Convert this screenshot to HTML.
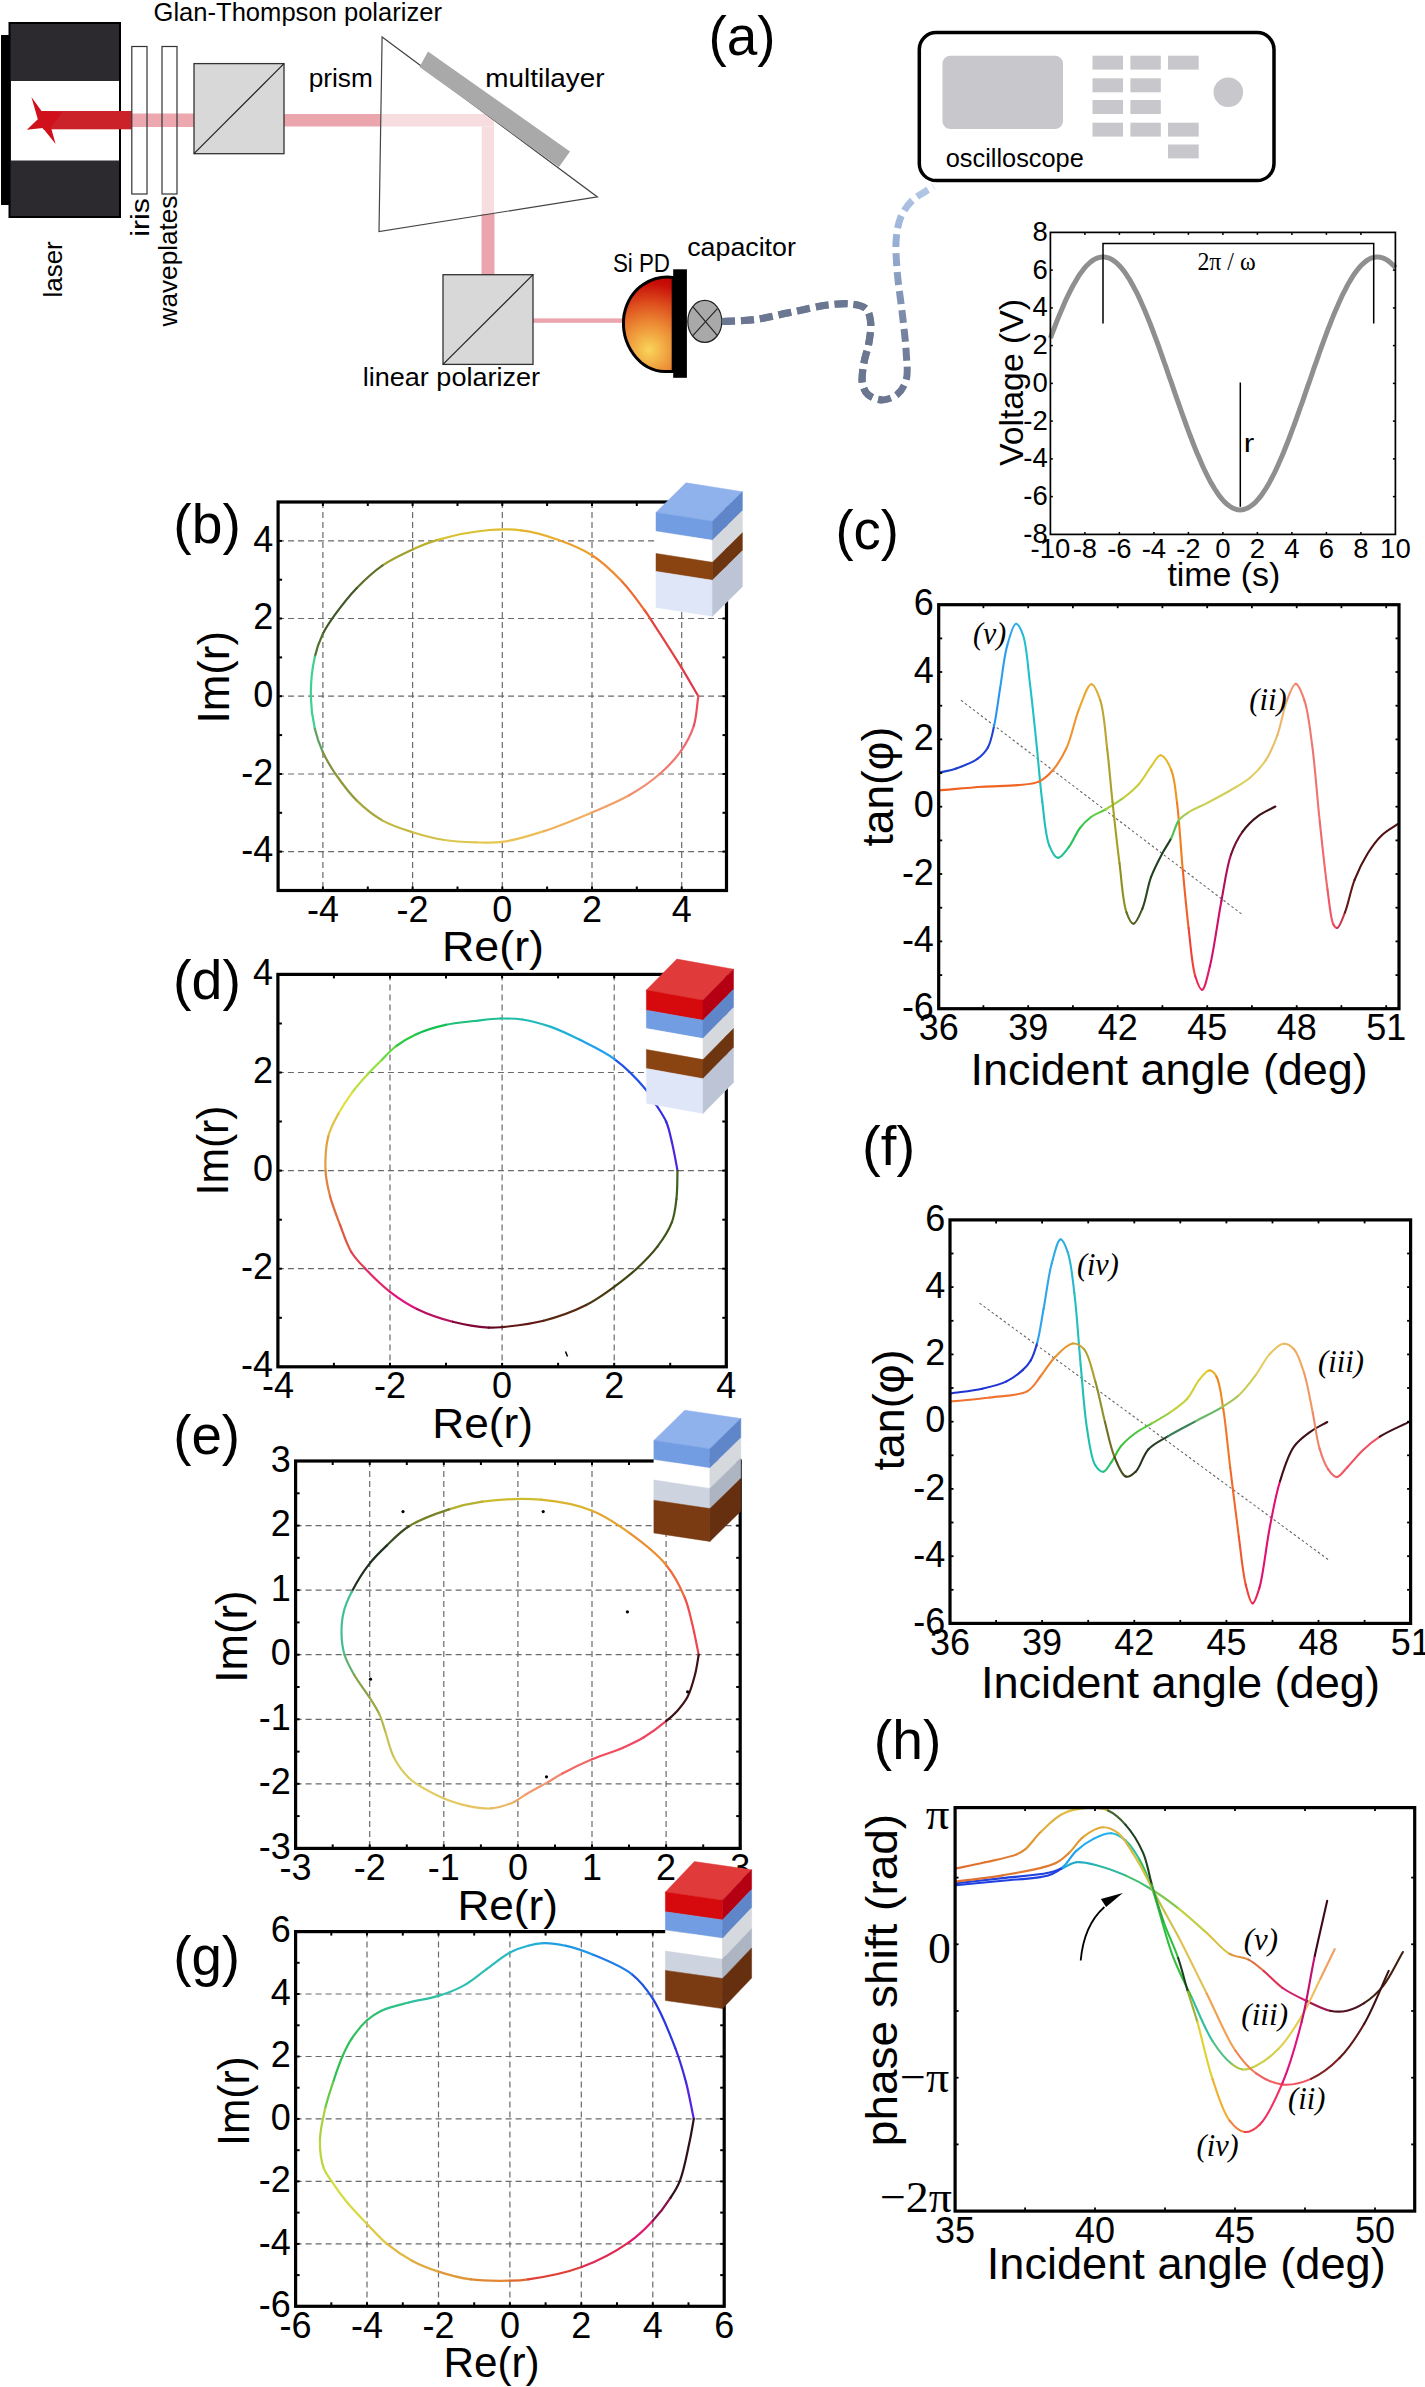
<!DOCTYPE html>
<html><head><meta charset="utf-8"><style>html,body{margin:0;padding:0;background:#fff;}svg{display:block;}</style></head>
<body><svg width="1425" height="2387" viewBox="0 0 1425 2387" font-family='"Liberation Sans", sans-serif'>
<rect x="1" y="35" width="10" height="170" fill="#000" />
<rect x="9.5" y="23" width="110.5" height="194" fill="#2d2a2f" stroke="#000" stroke-width="2" />
<rect x="11" y="81" width="108" height="79.5" fill="#fff" />
<rect x="42.8" y="111" width="89" height="18.3" fill="#cb2229" />
<rect x="131.8" y="113.5" width="62.2" height="13.5" fill="#eca7af" />
<rect x="284" y="114" width="96.5" height="12.5" fill="#eba5ad" />
<rect x="380.5" y="114" width="113.5" height="12.5" fill="#f8dde0" />
<rect x="481.7" y="126.5" width="12.3" height="87.5" fill="#f8dde0" />
<rect x="481.5" y="214" width="13" height="61" fill="#eba5ad" />
<rect x="533" y="318.4" width="90" height="4.4" fill="#eba5ad" />
<polygon points="31.4,96.9 41.5,111 62,112.4 51,127.4 55.6,143.9 42.8,127.9 26.9,129.7 37.8,119.2" fill="#d0101a" />
<rect x="131.8" y="46.5" width="15.2" height="147.5" fill="none" stroke="#333" stroke-width="1.2" />
<rect x="162" y="46.5" width="15" height="147.5" fill="none" stroke="#333" stroke-width="1.2" />
<rect x="194" y="63.6" width="90" height="90.1" fill="#d8d8d8" stroke="#333" stroke-width="1.3" />
<line x1="194" y1="153.7" x2="284" y2="63.6" stroke="#222" stroke-width="1.2" />
<polygon points="382.1,37 379,231.5 597.4,196.9" fill="none" stroke="#444" stroke-width="1.2" />
<polygon points="428,51.5 570,151.5 559,167 419.5,67" fill="#a9a9a9" />
<rect x="443" y="274.7" width="90" height="89.7" fill="#d8d8d8" stroke="#333" stroke-width="1.3" />
<line x1="443" y1="364.4" x2="533" y2="274.7" stroke="#222" stroke-width="1.2" />
<defs><radialGradient id="pdg" cx="649" cy="350" r="78" gradientUnits="userSpaceOnUse"><stop offset="0" stop-color="#fad55a"/><stop offset="0.35" stop-color="#ec8a34"/><stop offset="0.62" stop-color="#dc4a1c"/><stop offset="0.85" stop-color="#c81008"/><stop offset="1" stop-color="#c00000"/></radialGradient><linearGradient id="cab" x1="0" y1="400" x2="0" y2="186" gradientUnits="userSpaceOnUse"><stop offset="0" stop-color="#6b7690"/><stop offset="0.3" stop-color="#7482a0"/><stop offset="0.75" stop-color="#98b0d6"/><stop offset="1" stop-color="#b4c8e6"/></linearGradient></defs>
<path d="M673.2,277.5 C655,275 630,285 624,315 C620,345 640,371 665,371.5 L673.2,371.5 Z" fill="url(#pdg)" stroke="#000" stroke-width="3"/>
<rect x="673.2" y="269.3" width="13.7" height="108.5" fill="#000" />
<ellipse cx="704.8" cy="321.4" rx="17" ry="21" fill="#a9a9a9" stroke="#222" stroke-width="1.2"/>
<line x1="692.8" y1="306.6" x2="717.4" y2="335.6" stroke="#222" stroke-width="1.1" />
<line x1="717.4" y1="308.6" x2="692.8" y2="335.6" stroke="#222" stroke-width="1.1" />
<path d="M722,321.5C732.9,320.9 743.6,321 754.7,319.6C766.6,318.1 779,314.7 791.2,312.3C803.4,309.9 816.8,306.3 827.7,305C836.4,304 844.6,303.2 851.5,304.1C857,304.8 862.8,305.6 866,308.7C869,311.6 869.9,316.6 870.6,321.5C871.4,327.7 870,336.5 868.8,343.4C867.7,349.8 865.3,355.2 864.2,361.6C863,368.5 861.3,377.6 862.4,383.5C863.3,387.9 864.9,391.8 867.9,394.5C871.3,397.5 877.6,399.9 882.5,399.9C887.4,399.9 893.2,397.7 897.1,394.5C901.2,391.2 904.5,385.8 906.2,379.9C908.3,372.4 906.7,362.3 906.2,352.5C905.6,341.2 904,328.8 902.6,316C901,301.6 898.1,284.2 897.1,270.4C896.3,259.1 895.4,248.7 896.2,239.3C896.9,231.3 898,223.9 900.7,217.4C903.3,211.3 906.8,205.9 911.7,201C917.4,195.4 926.3,191.3 933.6,186.4" fill="none" stroke="url(#cab)" stroke-width="7" stroke-dasharray="13,6"/>
<path d="M722,321.5C732.9,320.9 743.6,321 754.7,319.6C766.6,318.1 779,314.7 791.2,312.3C803.4,309.9 816.8,306.3 827.7,305C836.4,304 844.6,303.2 851.5,304.1C857,304.8 862.8,305.6 866,308.7C869,311.6 869.9,316.6 870.6,321.5C871.4,327.7 870,336.5 868.8,343.4C867.7,349.8 865.3,355.2 864.2,361.6C863,368.5 861.3,377.6 862.4,383.5C863.3,387.9 864.9,391.8 867.9,394.5C871.3,397.5 877.6,399.9 882.5,399.9" fill="none" stroke="#6b7690" stroke-width="7.2" stroke-dasharray="13,6"/>
<rect x="919.3" y="32.6" width="354.7" height="148" fill="none" stroke="#000" stroke-width="3.5" rx="17" />
<rect x="942.4" y="55.7" width="120.6" height="73.3" fill="#c8c8cc" rx="8" />
<rect x="1092.5" y="55.7" width="30.5" height="13.9" fill="#c8c8cc" />
<rect x="1130.4" y="55.7" width="30.4" height="13.9" fill="#c8c8cc" />
<rect x="1168" y="55.7" width="30.7" height="13.9" fill="#c8c8cc" />
<rect x="1092.5" y="78.3" width="30.5" height="14" fill="#c8c8cc" />
<rect x="1130.4" y="78.3" width="30.4" height="14" fill="#c8c8cc" />
<rect x="1092.5" y="100" width="30.5" height="14" fill="#c8c8cc" />
<rect x="1130.4" y="100" width="30.4" height="14" fill="#c8c8cc" />
<rect x="1092.5" y="122.7" width="30.5" height="13.9" fill="#c8c8cc" />
<rect x="1130.4" y="122.7" width="30.4" height="13.9" fill="#c8c8cc" />
<rect x="1168" y="122.7" width="30.7" height="13.9" fill="#c8c8cc" />
<rect x="1168" y="144.5" width="30.7" height="13.9" fill="#c8c8cc" />
<circle cx="1228.3" cy="92.3" r="14.8" fill="#c8c8cc"/>
<path d="M1050.4,338.2 L1052.1,333.6 L1053.9,329 L1055.6,324.5 L1057.3,320.2 L1059,315.9 L1060.8,311.7 L1062.5,307.7 L1064.2,303.7 L1065.9,299.9 L1067.7,296.2 L1069.4,292.7 L1071.1,289.3 L1072.8,286 L1074.6,282.9 L1076.3,279.9 L1078,277.1 L1079.7,274.5 L1081.5,272.1 L1083.2,269.8 L1084.9,267.7 L1086.6,265.7 L1088.4,264 L1090.1,262.5 L1091.8,261.1 L1093.5,259.9 L1095.2,258.9 L1097,258.1 L1098.7,257.6 L1100.4,257.2 L1102.2,257 L1103.9,257 L1105.6,257.2 L1107.3,257.6 L1109.1,258.1 L1110.8,258.9 L1112.5,259.9 L1114.2,261.1 L1116,262.5 L1117.7,264 L1119.4,265.7 L1121.1,267.7 L1122.9,269.8 L1124.6,272.1 L1126.3,274.5 L1128,277.1 L1129.8,279.9 L1131.5,282.9 L1133.2,286 L1134.9,289.3 L1136.7,292.7 L1138.4,296.2 L1140.1,299.9 L1141.8,303.7 L1143.6,307.7 L1145.3,311.7 L1147,315.9 L1148.7,320.2 L1150.5,324.5 L1152.2,329 L1153.9,333.6 L1155.6,338.2 L1157.4,342.9 L1159.1,347.7 L1160.8,352.5 L1162.5,357.4 L1164.2,362.3 L1166,367.2 L1167.7,372.2 L1169.4,377.2 L1171.2,382.2 L1172.9,387.1 L1174.6,392.1 L1176.3,397.1 L1178.1,402.1 L1179.8,407 L1181.5,411.9 L1183.2,416.7 L1185,421.5 L1186.7,426.3 L1188.4,430.9 L1190.1,435.5 L1191.9,440 L1193.6,444.5 L1195.3,448.8 L1197,453 L1198.8,457.1 L1200.5,461.1 L1202.2,465 L1203.9,468.8 L1205.7,472.4 L1207.4,475.9 L1209.1,479.2 L1210.8,482.4 L1212.6,485.4 L1214.3,488.3 L1216,491 L1217.7,493.5 L1219.5,495.9 L1221.2,498.1 L1222.9,500.1 L1224.6,501.9 L1226.4,503.6 L1228.1,505.1 L1229.8,506.3 L1231.5,507.4 L1233.2,508.3 L1235,509 L1236.7,509.5 L1238.4,509.8 L1240.2,509.9 L1241.9,509.8 L1243.6,509.5 L1245.3,509 L1247.1,508.3 L1248.8,507.4 L1250.5,506.3 L1252.2,505.1 L1254,503.6 L1255.7,501.9 L1257.4,500.1 L1259.1,498.1 L1260.9,495.9 L1262.6,493.5 L1264.3,491 L1266,488.3 L1267.8,485.4 L1269.5,482.4 L1271.2,479.2 L1272.9,475.9 L1274.7,472.4 L1276.4,468.8 L1278.1,465 L1279.8,461.1 L1281.6,457.1 L1283.3,453 L1285,448.8 L1286.7,444.5 L1288.5,440 L1290.2,435.5 L1291.9,430.9 L1293.6,426.3 L1295.4,421.5 L1297.1,416.7 L1298.8,411.9 L1300.5,407 L1302.3,402.1 L1304,397.1 L1305.7,392.1 L1307.4,387.1 L1309.2,382.2 L1310.9,377.2 L1312.6,372.2 L1314.3,367.2 L1316.1,362.3 L1317.8,357.4 L1319.5,352.5 L1321.2,347.7 L1323,342.9 L1324.7,338.2 L1326.4,333.6 L1328.1,329 L1329.9,324.5 L1331.6,320.2 L1333.3,315.9 L1335,311.7 L1336.8,307.7 L1338.5,303.7 L1340.2,299.9 L1341.9,296.2 L1343.7,292.7 L1345.4,289.3 L1347.1,286 L1348.8,282.9 L1350.6,279.9 L1352.3,277.1 L1354,274.5 L1355.7,272.1 L1357.5,269.8 L1359.2,267.7 L1360.9,265.7 L1362.6,264 L1364.4,262.5 L1366.1,261.1 L1367.8,259.9 L1369.5,258.9 L1371.2,258.1 L1373,257.6 L1374.7,257.2 L1376.4,257 L1378.2,257 L1379.9,257.2 L1381.6,257.6 L1383.3,258.1 L1385.1,258.9 L1386.8,259.9 L1388.5,261.1 L1390.2,262.5 L1392,264 L1393.7,265.7 L1395.4,267.7" fill="none" stroke="#8f8f8f" stroke-width="5"/>
<line x1="1084.9" y1="534.4" x2="1084.9" y2="531.9" stroke="#000" stroke-width="1.5" />
<line x1="1084.9" y1="232.4" x2="1084.9" y2="234.9" stroke="#000" stroke-width="1.5" />
<line x1="1119.4" y1="534.4" x2="1119.4" y2="531.9" stroke="#000" stroke-width="1.5" />
<line x1="1119.4" y1="232.4" x2="1119.4" y2="234.9" stroke="#000" stroke-width="1.5" />
<line x1="1153.9" y1="534.4" x2="1153.9" y2="531.9" stroke="#000" stroke-width="1.5" />
<line x1="1153.9" y1="232.4" x2="1153.9" y2="234.9" stroke="#000" stroke-width="1.5" />
<line x1="1188.4" y1="534.4" x2="1188.4" y2="531.9" stroke="#000" stroke-width="1.5" />
<line x1="1188.4" y1="232.4" x2="1188.4" y2="234.9" stroke="#000" stroke-width="1.5" />
<line x1="1222.9" y1="534.4" x2="1222.9" y2="531.9" stroke="#000" stroke-width="1.5" />
<line x1="1222.9" y1="232.4" x2="1222.9" y2="234.9" stroke="#000" stroke-width="1.5" />
<line x1="1257.4" y1="534.4" x2="1257.4" y2="531.9" stroke="#000" stroke-width="1.5" />
<line x1="1257.4" y1="232.4" x2="1257.4" y2="234.9" stroke="#000" stroke-width="1.5" />
<line x1="1291.9" y1="534.4" x2="1291.9" y2="531.9" stroke="#000" stroke-width="1.5" />
<line x1="1291.9" y1="232.4" x2="1291.9" y2="234.9" stroke="#000" stroke-width="1.5" />
<line x1="1326.4" y1="534.4" x2="1326.4" y2="531.9" stroke="#000" stroke-width="1.5" />
<line x1="1326.4" y1="232.4" x2="1326.4" y2="234.9" stroke="#000" stroke-width="1.5" />
<line x1="1360.9" y1="534.4" x2="1360.9" y2="531.9" stroke="#000" stroke-width="1.5" />
<line x1="1360.9" y1="232.4" x2="1360.9" y2="234.9" stroke="#000" stroke-width="1.5" />
<line x1="1050.4" y1="496.6" x2="1052.9" y2="496.6" stroke="#000" stroke-width="1.5" />
<line x1="1395.4" y1="496.6" x2="1392.9" y2="496.6" stroke="#000" stroke-width="1.5" />
<line x1="1050.4" y1="458.9" x2="1052.9" y2="458.9" stroke="#000" stroke-width="1.5" />
<line x1="1395.4" y1="458.9" x2="1392.9" y2="458.9" stroke="#000" stroke-width="1.5" />
<line x1="1050.4" y1="421.1" x2="1052.9" y2="421.1" stroke="#000" stroke-width="1.5" />
<line x1="1395.4" y1="421.1" x2="1392.9" y2="421.1" stroke="#000" stroke-width="1.5" />
<line x1="1050.4" y1="383.4" x2="1052.9" y2="383.4" stroke="#000" stroke-width="1.5" />
<line x1="1395.4" y1="383.4" x2="1392.9" y2="383.4" stroke="#000" stroke-width="1.5" />
<line x1="1050.4" y1="345.6" x2="1052.9" y2="345.6" stroke="#000" stroke-width="1.5" />
<line x1="1395.4" y1="345.6" x2="1392.9" y2="345.6" stroke="#000" stroke-width="1.5" />
<line x1="1050.4" y1="307.9" x2="1052.9" y2="307.9" stroke="#000" stroke-width="1.5" />
<line x1="1395.4" y1="307.9" x2="1392.9" y2="307.9" stroke="#000" stroke-width="1.5" />
<line x1="1050.4" y1="270.1" x2="1052.9" y2="270.1" stroke="#000" stroke-width="1.5" />
<line x1="1395.4" y1="270.1" x2="1392.9" y2="270.1" stroke="#000" stroke-width="1.5" />
<rect x="1050.4" y="232.4" width="345" height="302" fill="none" stroke="#000" stroke-width="1.7" />
<path d="M1103,323.6 V243.6 H1373.7 V323.6" fill="none" stroke="#000" stroke-width="1.5"/>
<line x1="1240.3" y1="382.5" x2="1240.3" y2="506.8" stroke="#000" stroke-width="1.5" />
<text x="1047.7" y="542.8" font-size="27.5" text-anchor="end">-8</text>
<text x="1047.7" y="505" font-size="27.5" text-anchor="end">-6</text>
<text x="1047.7" y="467.3" font-size="27.5" text-anchor="end">-4</text>
<text x="1047.7" y="429.5" font-size="27.5" text-anchor="end">-2</text>
<text x="1047.7" y="391.8" font-size="27.5" text-anchor="end">0</text>
<text x="1047.7" y="354" font-size="27.5" text-anchor="end">2</text>
<text x="1047.7" y="316.3" font-size="27.5" text-anchor="end">4</text>
<text x="1047.7" y="278.5" font-size="27.5" text-anchor="end">6</text>
<text x="1047.7" y="240.8" font-size="27.5" text-anchor="end">8</text>
<text x="1050.4" y="557.5" font-size="27.5" text-anchor="middle">-10</text>
<text x="1084.9" y="557.5" font-size="27.5" text-anchor="middle">-8</text>
<text x="1119.4" y="557.5" font-size="27.5" text-anchor="middle">-6</text>
<text x="1153.9" y="557.5" font-size="27.5" text-anchor="middle">-4</text>
<text x="1188.4" y="557.5" font-size="27.5" text-anchor="middle">-2</text>
<text x="1222.9" y="557.5" font-size="27.5" text-anchor="middle">0</text>
<text x="1257.4" y="557.5" font-size="27.5" text-anchor="middle">2</text>
<text x="1291.9" y="557.5" font-size="27.5" text-anchor="middle">4</text>
<text x="1326.4" y="557.5" font-size="27.5" text-anchor="middle">6</text>
<text x="1360.9" y="557.5" font-size="27.5" text-anchor="middle">8</text>
<text x="1395.4" y="557.5" font-size="27.5" text-anchor="middle">10</text>
<line x1="322.9" y1="502" x2="322.9" y2="890.5" stroke="#6a6a6a" stroke-width="1.2" stroke-dasharray="6,4"/>
<line x1="412.6" y1="502" x2="412.6" y2="890.5" stroke="#6a6a6a" stroke-width="1.2" stroke-dasharray="6,4"/>
<line x1="502.3" y1="502" x2="502.3" y2="890.5" stroke="#6a6a6a" stroke-width="1.2" stroke-dasharray="6,4"/>
<line x1="592" y1="502" x2="592" y2="890.5" stroke="#6a6a6a" stroke-width="1.2" stroke-dasharray="6,4"/>
<line x1="681.7" y1="502" x2="681.7" y2="890.5" stroke="#6a6a6a" stroke-width="1.2" stroke-dasharray="6,4"/>
<line x1="278.1" y1="851.6" x2="726.5" y2="851.6" stroke="#6a6a6a" stroke-width="1.2" stroke-dasharray="6,4"/>
<line x1="278.1" y1="774" x2="726.5" y2="774" stroke="#6a6a6a" stroke-width="1.2" stroke-dasharray="6,4"/>
<line x1="278.1" y1="696.2" x2="726.5" y2="696.2" stroke="#6a6a6a" stroke-width="1.2" stroke-dasharray="6,4"/>
<line x1="278.1" y1="618.5" x2="726.5" y2="618.5" stroke="#6a6a6a" stroke-width="1.2" stroke-dasharray="6,4"/>
<line x1="278.1" y1="540.9" x2="726.5" y2="540.9" stroke="#6a6a6a" stroke-width="1.2" stroke-dasharray="6,4"/>
<path d="M698.3,696.2C692.6,686.5 687.8,677.9 681.2,667.1" fill="none" stroke="#e03848" stroke-width="2.2" stroke-linecap="round"/>
<path d="M681.2,667.1C672.6,653.1 657.1,629.1 650.7,619.3" fill="none" stroke="#e54040" stroke-width="2.2" stroke-linecap="round"/>
<path d="M650.7,619.3C647.9,615 647.3,613.9 644.4,610" fill="none" stroke="#ea5038" stroke-width="2.2" stroke-linecap="round"/>
<path d="M644.4,610C639.2,602.8 629.8,589.6 621.1,580.5" fill="none" stroke="#ee6a30" stroke-width="2.2" stroke-linecap="round"/>
<path d="M621.1,580.5C612.3,571.3 602.6,562 592,555.2" fill="none" stroke="#f08a30" stroke-width="2.2" stroke-linecap="round"/>
<path d="M592,555.2C581.5,548.5 569.7,543.8 557.9,539.7" fill="none" stroke="#eca030" stroke-width="2.2" stroke-linecap="round"/>
<path d="M557.9,539.7C546.1,535.5 533,531.9 521.1,530.4" fill="none" stroke="#e6b030" stroke-width="2.2" stroke-linecap="round"/>
<path d="M521.1,530.4C510.2,528.9 501.2,528.9 489.3,530" fill="none" stroke="#e0bc30" stroke-width="2.2" stroke-linecap="round"/>
<path d="M489.3,530C473.9,531.3 450.8,536.1 436.8,540.1" fill="none" stroke="#d8c030" stroke-width="2.2" stroke-linecap="round"/>
<path d="M436.8,540.1C427.1,542.9 421,545.6 412.6,549.4" fill="none" stroke="#b8b030" stroke-width="2.2" stroke-linecap="round"/>
<path d="M412.6,549.4C403,553.8 391.9,558.9 382.6,565.3" fill="none" stroke="#a0a030" stroke-width="2.2" stroke-linecap="round"/>
<path d="M382.6,565.3C373.2,571.8 364.5,580 356.6,588.2" fill="none" stroke="#607028" stroke-width="2.2" stroke-linecap="round"/>
<path d="M356.6,588.2C348.7,596.4 341,606.4 335,614.7C330.2,621.4 326.3,626.9 322.9,633.7" fill="none" stroke="#405828" stroke-width="2.2" stroke-linecap="round"/>
<path d="M322.9,633.7C319.5,640.8 316.8,647.8 314.9,656.6" fill="none" stroke="#507030" stroke-width="2.2" stroke-linecap="round"/>
<path d="M314.9,656.6C312.3,667.9 310.7,683.7 310.8,696.2C311,707.7 312.6,719 314.9,728.9" fill="none" stroke="#40d090" stroke-width="2.2" stroke-linecap="round"/>
<path d="M314.9,728.9C316.9,737.4 319.5,744.7 322.9,752.2" fill="none" stroke="#60a060" stroke-width="2.2" stroke-linecap="round"/>
<path d="M322.9,752.2C326.4,759.7 330.4,766.5 335.5,774" fill="none" stroke="#809040" stroke-width="2.2" stroke-linecap="round"/>
<path d="M335.5,774C341.4,782.5 348.7,792.6 356.6,800.4" fill="none" stroke="#909838" stroke-width="2.2" stroke-linecap="round"/>
<path d="M356.6,800.4C364.4,808.1 373.2,815.2 382.6,820.6" fill="none" stroke="#a8a840" stroke-width="2.2" stroke-linecap="round"/>
<path d="M382.6,820.6C391.9,825.8 402.4,829 412.6,832.2" fill="none" stroke="#c0b840" stroke-width="2.2" stroke-linecap="round"/>
<path d="M412.6,832.2C423,835.5 433.9,838.3 444.5,840" fill="none" stroke="#d0c048" stroke-width="2.2" stroke-linecap="round"/>
<path d="M444.5,840C454.8,841.6 465.4,842 475.4,842.3" fill="none" stroke="#dcc850" stroke-width="2.2" stroke-linecap="round"/>
<path d="M475.4,842.3C484.7,842.6 492.4,843.3 502.3,841.9" fill="none" stroke="#e4c850" stroke-width="2.2" stroke-linecap="round"/>
<path d="M502.3,841.9C514.8,840.2 529.8,835.7 544,831.1" fill="none" stroke="#ecc058" stroke-width="2.2" stroke-linecap="round"/>
<path d="M544,831.1C559.6,826 577.1,818.7 592,812.4" fill="none" stroke="#f0b060" stroke-width="2.2" stroke-linecap="round"/>
<path d="M592,812.4C605.3,806.8 617.7,801.9 629.2,795.3" fill="none" stroke="#f0a068" stroke-width="2.2" stroke-linecap="round"/>
<path d="M629.2,795.3C640.2,789 650.8,781.7 659.7,774" fill="none" stroke="#f08c70" stroke-width="2.2" stroke-linecap="round"/>
<path d="M659.7,774C667.9,766.8 675.4,759 681.2,750.6" fill="none" stroke="#f07870" stroke-width="2.2" stroke-linecap="round"/>
<path d="M681.2,750.6C686.6,742.8 690.9,734.7 693.8,725.8" fill="none" stroke="#f06870" stroke-width="2.2" stroke-linecap="round"/>
<path d="M693.8,725.8C696.7,716.6 696.8,706.1 698.3,696.2" fill="none" stroke="#ea5060" stroke-width="2.2" stroke-linecap="round"/>
<line x1="278.1" y1="890.5" x2="278.1" y2="886.5" stroke="#000" stroke-width="2" />
<line x1="278.1" y1="502" x2="278.1" y2="506" stroke="#000" stroke-width="2" />
<line x1="322.9" y1="890.5" x2="322.9" y2="886.5" stroke="#000" stroke-width="2" />
<line x1="322.9" y1="502" x2="322.9" y2="506" stroke="#000" stroke-width="2" />
<line x1="367.8" y1="890.5" x2="367.8" y2="886.5" stroke="#000" stroke-width="2" />
<line x1="367.8" y1="502" x2="367.8" y2="506" stroke="#000" stroke-width="2" />
<line x1="412.6" y1="890.5" x2="412.6" y2="886.5" stroke="#000" stroke-width="2" />
<line x1="412.6" y1="502" x2="412.6" y2="506" stroke="#000" stroke-width="2" />
<line x1="457.5" y1="890.5" x2="457.5" y2="886.5" stroke="#000" stroke-width="2" />
<line x1="457.5" y1="502" x2="457.5" y2="506" stroke="#000" stroke-width="2" />
<line x1="502.3" y1="890.5" x2="502.3" y2="886.5" stroke="#000" stroke-width="2" />
<line x1="502.3" y1="502" x2="502.3" y2="506" stroke="#000" stroke-width="2" />
<line x1="547.1" y1="890.5" x2="547.1" y2="886.5" stroke="#000" stroke-width="2" />
<line x1="547.1" y1="502" x2="547.1" y2="506" stroke="#000" stroke-width="2" />
<line x1="592" y1="890.5" x2="592" y2="886.5" stroke="#000" stroke-width="2" />
<line x1="592" y1="502" x2="592" y2="506" stroke="#000" stroke-width="2" />
<line x1="636.8" y1="890.5" x2="636.8" y2="886.5" stroke="#000" stroke-width="2" />
<line x1="636.8" y1="502" x2="636.8" y2="506" stroke="#000" stroke-width="2" />
<line x1="681.7" y1="890.5" x2="681.7" y2="886.5" stroke="#000" stroke-width="2" />
<line x1="681.7" y1="502" x2="681.7" y2="506" stroke="#000" stroke-width="2" />
<line x1="726.5" y1="890.5" x2="726.5" y2="886.5" stroke="#000" stroke-width="2" />
<line x1="726.5" y1="502" x2="726.5" y2="506" stroke="#000" stroke-width="2" />
<line x1="278.1" y1="890.5" x2="282.1" y2="890.5" stroke="#000" stroke-width="2" />
<line x1="726.5" y1="890.5" x2="722.5" y2="890.5" stroke="#000" stroke-width="2" />
<line x1="278.1" y1="851.6" x2="282.1" y2="851.6" stroke="#000" stroke-width="2" />
<line x1="726.5" y1="851.6" x2="722.5" y2="851.6" stroke="#000" stroke-width="2" />
<line x1="278.1" y1="812.8" x2="282.1" y2="812.8" stroke="#000" stroke-width="2" />
<line x1="726.5" y1="812.8" x2="722.5" y2="812.8" stroke="#000" stroke-width="2" />
<line x1="278.1" y1="774" x2="282.1" y2="774" stroke="#000" stroke-width="2" />
<line x1="726.5" y1="774" x2="722.5" y2="774" stroke="#000" stroke-width="2" />
<line x1="278.1" y1="735.1" x2="282.1" y2="735.1" stroke="#000" stroke-width="2" />
<line x1="726.5" y1="735.1" x2="722.5" y2="735.1" stroke="#000" stroke-width="2" />
<line x1="278.1" y1="696.2" x2="282.1" y2="696.2" stroke="#000" stroke-width="2" />
<line x1="726.5" y1="696.2" x2="722.5" y2="696.2" stroke="#000" stroke-width="2" />
<line x1="278.1" y1="657.4" x2="282.1" y2="657.4" stroke="#000" stroke-width="2" />
<line x1="726.5" y1="657.4" x2="722.5" y2="657.4" stroke="#000" stroke-width="2" />
<line x1="278.1" y1="618.5" x2="282.1" y2="618.5" stroke="#000" stroke-width="2" />
<line x1="726.5" y1="618.5" x2="722.5" y2="618.5" stroke="#000" stroke-width="2" />
<line x1="278.1" y1="579.7" x2="282.1" y2="579.7" stroke="#000" stroke-width="2" />
<line x1="726.5" y1="579.7" x2="722.5" y2="579.7" stroke="#000" stroke-width="2" />
<line x1="278.1" y1="540.9" x2="282.1" y2="540.9" stroke="#000" stroke-width="2" />
<line x1="726.5" y1="540.9" x2="722.5" y2="540.9" stroke="#000" stroke-width="2" />
<line x1="278.1" y1="502" x2="282.1" y2="502" stroke="#000" stroke-width="2" />
<line x1="726.5" y1="502" x2="722.5" y2="502" stroke="#000" stroke-width="2" />
<rect x="278.1" y="502" width="448.4" height="388.5" fill="none" stroke="#000" stroke-width="3.2" />
<text x="273.3" y="862.2" font-size="36" text-anchor="end">-4</text>
<text x="273.3" y="784.6" font-size="36" text-anchor="end">-2</text>
<text x="273.3" y="706.9" font-size="36" text-anchor="end">0</text>
<text x="273.3" y="629.1" font-size="36" text-anchor="end">2</text>
<text x="273.3" y="551.5" font-size="36" text-anchor="end">4</text>
<text x="322.9" y="921.8" font-size="36" text-anchor="middle">-4</text>
<text x="412.6" y="921.8" font-size="36" text-anchor="middle">-2</text>
<text x="502.3" y="921.8" font-size="36" text-anchor="middle">0</text>
<text x="592" y="921.8" font-size="36" text-anchor="middle">2</text>
<text x="681.7" y="921.8" font-size="36" text-anchor="middle">4</text>
<polygon points="656,512.4 712.4,521.3 742.4,491.7 686,482.8" fill="#8fb1ec" stroke="#8fb1ec" stroke-width="0.5" />
<polygon points="656,512.4 712.4,521.3 712.4,540.3 656,531.4" fill="#739de2" stroke="#739de2" stroke-width="0.5" />
<polygon points="712.4,521.3 742.4,491.7 742.4,510.7 712.4,540.3" fill="#5f86c8" stroke="#5f86c8" stroke-width="0.5" />
<polygon points="656,531.4 712.4,540.3 712.4,562.3 656,553.4" fill="#ffffff" stroke="#ffffff" stroke-width="0.5" />
<polygon points="712.4,540.3 742.4,510.7 742.4,532.7 712.4,562.3" fill="#d5d8dd" stroke="#d5d8dd" stroke-width="0.5" />
<polygon points="656,553.4 712.4,562.3 712.4,580.3 656,571.4" fill="#8a4412" stroke="#8a4412" stroke-width="0.5" />
<polygon points="712.4,562.3 742.4,532.7 742.4,550.7 712.4,580.3" fill="#6e3610" stroke="#6e3610" stroke-width="0.5" />
<polygon points="656,571.4 712.4,580.3 712.4,616.3 656,607.4" fill="#dfe6f7" stroke="#dfe6f7" stroke-width="0.5" />
<polygon points="712.4,580.3 742.4,550.7 742.4,586.7 712.4,616.3" fill="#bcc4d6" stroke="#bcc4d6" stroke-width="0.5" />
<line x1="390" y1="974.4" x2="390" y2="1366.8" stroke="#6a6a6a" stroke-width="1.2" stroke-dasharray="6,4"/>
<line x1="502.1" y1="974.4" x2="502.1" y2="1366.8" stroke="#6a6a6a" stroke-width="1.2" stroke-dasharray="6,4"/>
<line x1="614.2" y1="974.4" x2="614.2" y2="1366.8" stroke="#6a6a6a" stroke-width="1.2" stroke-dasharray="6,4"/>
<line x1="277.9" y1="1268.7" x2="726.3" y2="1268.7" stroke="#6a6a6a" stroke-width="1.2" stroke-dasharray="6,4"/>
<line x1="277.9" y1="1170.6" x2="726.3" y2="1170.6" stroke="#6a6a6a" stroke-width="1.2" stroke-dasharray="6,4"/>
<line x1="277.9" y1="1072.5" x2="726.3" y2="1072.5" stroke="#6a6a6a" stroke-width="1.2" stroke-dasharray="6,4"/>
<path d="M677.5,1170.6C675.7,1161.1 674,1150.8 671.9,1142.2" fill="none" stroke="#5223e0" stroke-width="2.2" stroke-linecap="round"/>
<path d="M671.9,1142.2C670.2,1134.8 669,1128.3 666.3,1122" fill="none" stroke="#4228e0" stroke-width="2.2" stroke-linecap="round"/>
<path d="M666.3,1122C663.7,1115.9 659.7,1110.4 656.2,1104.9" fill="none" stroke="#322de0" stroke-width="2.2" stroke-linecap="round"/>
<path d="M656.2,1104.9C652.8,1099.5 650.4,1095 645.6,1089.2" fill="none" stroke="#273be3" stroke-width="2.2" stroke-linecap="round"/>
<path d="M645.6,1089.2C638.3,1080.5 626,1067.6 614.8,1059.3" fill="none" stroke="#2050e8" stroke-width="2.2" stroke-linecap="round"/>
<path d="M614.8,1059.3C603.9,1051.2 590.7,1045.3 579.4,1039.6" fill="none" stroke="#20a0f0" stroke-width="2.2" stroke-linecap="round"/>
<path d="M579.4,1039.6C569.5,1034.7 560.5,1030.3 550.9,1026.9" fill="none" stroke="#20b0d5" stroke-width="2.2" stroke-linecap="round"/>
<path d="M550.9,1026.9C541.5,1023.6 531.2,1020.9 522.3,1019.5" fill="none" stroke="#20b9bd" stroke-width="2.2" stroke-linecap="round"/>
<path d="M522.3,1019.5C514.6,1018.4 508,1018.4 500.4,1018.5" fill="none" stroke="#20bca8" stroke-width="2.2" stroke-linecap="round"/>
<path d="M500.4,1018.5C492,1018.7 483,1020 474.1,1021" fill="none" stroke="#20bf93" stroke-width="2.2" stroke-linecap="round"/>
<path d="M474.1,1021C464.7,1022.1 455,1022.8 445.5,1024.9" fill="none" stroke="#1cc076" stroke-width="2.2" stroke-linecap="round"/>
<path d="M445.5,1024.9C435.7,1027.1 425,1030.3 416.3,1034.2" fill="none" stroke="#14c052" stroke-width="2.2" stroke-linecap="round"/>
<path d="M416.3,1034.2C408.6,1037.7 401.7,1041.9 395.6,1046.5" fill="none" stroke="#2cc840" stroke-width="2.2" stroke-linecap="round"/>
<path d="M395.6,1046.5C390,1050.8 385.8,1056 381,1060.7" fill="none" stroke="#64d840" stroke-width="2.2" stroke-linecap="round"/>
<path d="M381,1060.7C376.3,1065.4 371.6,1069.9 367,1075" fill="none" stroke="#93e040" stroke-width="2.2" stroke-linecap="round"/>
<path d="M367,1075C362.1,1080.3 357.1,1085.9 352.4,1092.1" fill="none" stroke="#bae040" stroke-width="2.2" stroke-linecap="round"/>
<path d="M352.4,1092.1C347.5,1098.8 342.5,1106.3 338.4,1113.7" fill="none" stroke="#e0e040" stroke-width="2.2" stroke-linecap="round"/>
<path d="M338.4,1113.7C334.5,1121 330.5,1127.7 328.3,1136.3" fill="none" stroke="#e0c040" stroke-width="2.2" stroke-linecap="round"/>
<path d="M328.3,1136.3C325.8,1146.3 325.1,1160 325.5,1170.6" fill="none" stroke="#e0a040" stroke-width="2.2" stroke-linecap="round"/>
<path d="M325.5,1170.6C326,1179.8 327.8,1187.4 330,1196.1" fill="none" stroke="#e08440" stroke-width="2.2" stroke-linecap="round"/>
<path d="M330,1196.1C332.5,1205.5 336.5,1215.6 340.1,1225" fill="none" stroke="#e06c40" stroke-width="2.2" stroke-linecap="round"/>
<path d="M340.1,1225C343.6,1234.2 346.7,1244.4 351.3,1252" fill="none" stroke="#e05545" stroke-width="2.2" stroke-linecap="round"/>
<path d="M351.3,1252C355.3,1258.6 359.8,1262.9 365.3,1268.7" fill="none" stroke="#e04050" stroke-width="2.2" stroke-linecap="round"/>
<path d="M365.3,1268.7C372.2,1276 381.3,1285 390,1291.8" fill="none" stroke="#e02868" stroke-width="2.2" stroke-linecap="round"/>
<path d="M390,1291.8C398.5,1298.3 407,1304.1 416.9,1308.9" fill="none" stroke="#e01080" stroke-width="2.2" stroke-linecap="round"/>
<path d="M416.9,1308.9C427.7,1314.2 440.7,1318.6 452.8,1321.7" fill="none" stroke="#b51060" stroke-width="2.2" stroke-linecap="round"/>
<path d="M452.8,1321.7C464.6,1324.7 479.5,1327 488.6,1327.6" fill="none" stroke="#800838" stroke-width="2.2" stroke-linecap="round"/>
<path d="M488.6,1327.6C494.2,1327.9 496.4,1327.6 502.1,1327.1" fill="none" stroke="#60081c" stroke-width="2.2" stroke-linecap="round"/>
<path d="M502.1,1327.1C512.2,1326.1 529.8,1324.2 543.6,1320.7" fill="none" stroke="#601814" stroke-width="2.2" stroke-linecap="round"/>
<path d="M543.6,1320.7C557.9,1317 573.7,1311.3 586.2,1305" fill="none" stroke="#582810" stroke-width="2.2" stroke-linecap="round"/>
<path d="M586.2,1305C597,1299.6 606.1,1292.7 614.8,1286.4" fill="none" stroke="#483810" stroke-width="2.2" stroke-linecap="round"/>
<path d="M614.8,1286.4C622.5,1280.7 629.2,1275.6 636.1,1269.2" fill="none" stroke="#404412" stroke-width="2.2" stroke-linecap="round"/>
<path d="M636.1,1269.2C643.4,1262.4 651.3,1254.7 657.4,1246.6" fill="none" stroke="#404c16" stroke-width="2.2" stroke-linecap="round"/>
<path d="M657.4,1246.6C663.2,1238.9 668.8,1230.4 671.9,1222.1" fill="none" stroke="#40541a" stroke-width="2.2" stroke-linecap="round"/>
<path d="M671.9,1222.1C674.8,1214.5 675.5,1207.2 676.4,1199" fill="none" stroke="#405c1e" stroke-width="2.2" stroke-linecap="round"/>
<path d="M676.4,1199C677.5,1190.1 677.2,1180.1 677.5,1170.6" fill="none" stroke="#406020" stroke-width="2.2" stroke-linecap="round"/>
<line x1="565.5" y1="1351.5" x2="567.5" y2="1356.5" stroke="#000" stroke-width="1.5" />
<line x1="277.9" y1="1366.8" x2="277.9" y2="1362.8" stroke="#000" stroke-width="2" />
<line x1="277.9" y1="974.4" x2="277.9" y2="978.4" stroke="#000" stroke-width="2" />
<line x1="333.9" y1="1366.8" x2="333.9" y2="1362.8" stroke="#000" stroke-width="2" />
<line x1="333.9" y1="974.4" x2="333.9" y2="978.4" stroke="#000" stroke-width="2" />
<line x1="390" y1="1366.8" x2="390" y2="1362.8" stroke="#000" stroke-width="2" />
<line x1="390" y1="974.4" x2="390" y2="978.4" stroke="#000" stroke-width="2" />
<line x1="446" y1="1366.8" x2="446" y2="1362.8" stroke="#000" stroke-width="2" />
<line x1="446" y1="974.4" x2="446" y2="978.4" stroke="#000" stroke-width="2" />
<line x1="502.1" y1="1366.8" x2="502.1" y2="1362.8" stroke="#000" stroke-width="2" />
<line x1="502.1" y1="974.4" x2="502.1" y2="978.4" stroke="#000" stroke-width="2" />
<line x1="558.1" y1="1366.8" x2="558.1" y2="1362.8" stroke="#000" stroke-width="2" />
<line x1="558.1" y1="974.4" x2="558.1" y2="978.4" stroke="#000" stroke-width="2" />
<line x1="614.2" y1="1366.8" x2="614.2" y2="1362.8" stroke="#000" stroke-width="2" />
<line x1="614.2" y1="974.4" x2="614.2" y2="978.4" stroke="#000" stroke-width="2" />
<line x1="670.2" y1="1366.8" x2="670.2" y2="1362.8" stroke="#000" stroke-width="2" />
<line x1="670.2" y1="974.4" x2="670.2" y2="978.4" stroke="#000" stroke-width="2" />
<line x1="726.3" y1="1366.8" x2="726.3" y2="1362.8" stroke="#000" stroke-width="2" />
<line x1="726.3" y1="974.4" x2="726.3" y2="978.4" stroke="#000" stroke-width="2" />
<line x1="277.9" y1="1366.8" x2="281.9" y2="1366.8" stroke="#000" stroke-width="2" />
<line x1="726.3" y1="1366.8" x2="722.3" y2="1366.8" stroke="#000" stroke-width="2" />
<line x1="277.9" y1="1317.8" x2="281.9" y2="1317.8" stroke="#000" stroke-width="2" />
<line x1="726.3" y1="1317.8" x2="722.3" y2="1317.8" stroke="#000" stroke-width="2" />
<line x1="277.9" y1="1268.7" x2="281.9" y2="1268.7" stroke="#000" stroke-width="2" />
<line x1="726.3" y1="1268.7" x2="722.3" y2="1268.7" stroke="#000" stroke-width="2" />
<line x1="277.9" y1="1219.7" x2="281.9" y2="1219.7" stroke="#000" stroke-width="2" />
<line x1="726.3" y1="1219.7" x2="722.3" y2="1219.7" stroke="#000" stroke-width="2" />
<line x1="277.9" y1="1170.6" x2="281.9" y2="1170.6" stroke="#000" stroke-width="2" />
<line x1="726.3" y1="1170.6" x2="722.3" y2="1170.6" stroke="#000" stroke-width="2" />
<line x1="277.9" y1="1121.5" x2="281.9" y2="1121.5" stroke="#000" stroke-width="2" />
<line x1="726.3" y1="1121.5" x2="722.3" y2="1121.5" stroke="#000" stroke-width="2" />
<line x1="277.9" y1="1072.5" x2="281.9" y2="1072.5" stroke="#000" stroke-width="2" />
<line x1="726.3" y1="1072.5" x2="722.3" y2="1072.5" stroke="#000" stroke-width="2" />
<line x1="277.9" y1="1023.5" x2="281.9" y2="1023.5" stroke="#000" stroke-width="2" />
<line x1="726.3" y1="1023.5" x2="722.3" y2="1023.5" stroke="#000" stroke-width="2" />
<line x1="277.9" y1="974.4" x2="281.9" y2="974.4" stroke="#000" stroke-width="2" />
<line x1="726.3" y1="974.4" x2="722.3" y2="974.4" stroke="#000" stroke-width="2" />
<rect x="277.9" y="974.4" width="448.4" height="392.4" fill="none" stroke="#000" stroke-width="3.2" />
<text x="273.1" y="1377.4" font-size="36" text-anchor="end">-4</text>
<text x="273.1" y="1279.3" font-size="36" text-anchor="end">-2</text>
<text x="273.1" y="1181.2" font-size="36" text-anchor="end">0</text>
<text x="273.1" y="1083.1" font-size="36" text-anchor="end">2</text>
<text x="273.1" y="985" font-size="36" text-anchor="end">4</text>
<text x="277.9" y="1398.1" font-size="36" text-anchor="middle">-4</text>
<text x="390" y="1398.1" font-size="36" text-anchor="middle">-2</text>
<text x="502.1" y="1398.1" font-size="36" text-anchor="middle">0</text>
<text x="614.2" y="1398.1" font-size="36" text-anchor="middle">2</text>
<text x="726.3" y="1398.1" font-size="36" text-anchor="middle">4</text>
<polygon points="646.4,990.1 703,1000.2 733.5,969.2 676.9,959.1" fill="#e03a3a" stroke="#e03a3a" stroke-width="0.5" />
<polygon points="646.4,990.1 703,1000.2 703,1020.3 646.4,1010.2" fill="#d60a0c" stroke="#d60a0c" stroke-width="0.5" />
<polygon points="703,1000.2 733.5,969.2 733.5,989.3 703,1020.3" fill="#b40012" stroke="#b40012" stroke-width="0.5" />
<polygon points="646.4,1010.2 703,1020.3 703,1038.6 646.4,1028.5" fill="#739de2" stroke="#739de2" stroke-width="0.5" />
<polygon points="703,1020.3 733.5,989.3 733.5,1007.6 703,1038.6" fill="#5f86c8" stroke="#5f86c8" stroke-width="0.5" />
<polygon points="646.4,1028.5 703,1038.6 703,1059.6 646.4,1049.5" fill="#ffffff" stroke="#ffffff" stroke-width="0.5" />
<polygon points="703,1038.6 733.5,1007.6 733.5,1028.6 703,1059.6" fill="#d5d8dd" stroke="#d5d8dd" stroke-width="0.5" />
<polygon points="646.4,1049.5 703,1059.6 703,1078.7 646.4,1068.6" fill="#8a4412" stroke="#8a4412" stroke-width="0.5" />
<polygon points="703,1059.6 733.5,1028.6 733.5,1047.7 703,1078.7" fill="#6e3610" stroke="#6e3610" stroke-width="0.5" />
<polygon points="646.4,1068.6 703,1078.7 703,1113.4 646.4,1103.3" fill="#dfe6f7" stroke="#dfe6f7" stroke-width="0.5" />
<polygon points="703,1078.7 733.5,1047.7 733.5,1082.4 703,1113.4" fill="#bcc4d6" stroke="#bcc4d6" stroke-width="0.5" />
<line x1="369.7" y1="1461" x2="369.7" y2="1848.4" stroke="#6a6a6a" stroke-width="1.2" stroke-dasharray="6,4"/>
<line x1="443.8" y1="1461" x2="443.8" y2="1848.4" stroke="#6a6a6a" stroke-width="1.2" stroke-dasharray="6,4"/>
<line x1="517.9" y1="1461" x2="517.9" y2="1848.4" stroke="#6a6a6a" stroke-width="1.2" stroke-dasharray="6,4"/>
<line x1="592" y1="1461" x2="592" y2="1848.4" stroke="#6a6a6a" stroke-width="1.2" stroke-dasharray="6,4"/>
<line x1="666.1" y1="1461" x2="666.1" y2="1848.4" stroke="#6a6a6a" stroke-width="1.2" stroke-dasharray="6,4"/>
<line x1="295.6" y1="1783.8" x2="740.2" y2="1783.8" stroke="#6a6a6a" stroke-width="1.2" stroke-dasharray="6,4"/>
<line x1="295.6" y1="1719.3" x2="740.2" y2="1719.3" stroke="#6a6a6a" stroke-width="1.2" stroke-dasharray="6,4"/>
<line x1="295.6" y1="1654.7" x2="740.2" y2="1654.7" stroke="#6a6a6a" stroke-width="1.2" stroke-dasharray="6,4"/>
<line x1="295.6" y1="1590.1" x2="740.2" y2="1590.1" stroke="#6a6a6a" stroke-width="1.2" stroke-dasharray="6,4"/>
<line x1="295.6" y1="1525.6" x2="740.2" y2="1525.6" stroke="#6a6a6a" stroke-width="1.2" stroke-dasharray="6,4"/>
<path d="M698.7,1654.7C696.5,1644.2 694.5,1633 692,1623.1" fill="none" stroke="#f0444e" stroke-width="2.2" stroke-linecap="round"/>
<path d="M692,1623.1C689.8,1614 688.4,1606.1 684.6,1597.2" fill="none" stroke="#f04c4a" stroke-width="2.2" stroke-linecap="round"/>
<path d="M684.6,1597.2C680.2,1586.8 674.4,1575.1 666.1,1565" fill="none" stroke="#f0683c" stroke-width="2.2" stroke-linecap="round"/>
<path d="M666.1,1565C656.6,1553.3 641.8,1541.9 629,1532.7" fill="none" stroke="#ec8c30" stroke-width="2.2" stroke-linecap="round"/>
<path d="M629,1532.7C617.1,1524 605.8,1516.1 592,1510.7" fill="none" stroke="#e4a430" stroke-width="2.2" stroke-linecap="round"/>
<path d="M592,1510.7C576.8,1504.7 558.6,1501.3 540.9,1499.7" fill="none" stroke="#dab430" stroke-width="2.2" stroke-linecap="round"/>
<path d="M540.9,1499.7C522.1,1498.1 499,1499.5 482.3,1501.7" fill="none" stroke="#cebc30" stroke-width="2.2" stroke-linecap="round"/>
<path d="M482.3,1501.7C469.6,1503.4 460.4,1505.7 449,1509.4" fill="none" stroke="#b4b030" stroke-width="2.2" stroke-linecap="round"/>
<path d="M449,1509.4C436.1,1513.6 419.9,1519.4 409,1526.2" fill="none" stroke="#788028" stroke-width="2.2" stroke-linecap="round"/>
<path d="M409,1526.2C399.9,1531.8 393.6,1539 386.7,1545.6" fill="none" stroke="#384820" stroke-width="2.2" stroke-linecap="round"/>
<path d="M386.7,1545.6C380.3,1551.7 374.5,1557.2 369,1564.3C362.8,1572.2 356.3,1582.9 351.9,1591.4" fill="none" stroke="#203020" stroke-width="2.2" stroke-linecap="round"/>
<path d="M351.9,1591.4C348.3,1598.4 345.5,1604.5 343.8,1611.4C342,1618.5 341.4,1626.1 341.5,1633.4C341.7,1640.6 342.4,1647.9 344.5,1654.7" fill="none" stroke="#40c090" stroke-width="2.2" stroke-linecap="round"/>
<path d="M344.5,1654.7C346.6,1661.6 350.3,1668 354.1,1674.7" fill="none" stroke="#60b070" stroke-width="2.2" stroke-linecap="round"/>
<path d="M354.1,1674.7C358.3,1682 364.5,1689.7 369,1696.7" fill="none" stroke="#88a048" stroke-width="2.2" stroke-linecap="round"/>
<path d="M369,1696.7C372.8,1702.8 376.6,1708.1 379.3,1714.1" fill="none" stroke="#9ca844" stroke-width="2.2" stroke-linecap="round"/>
<path d="M379.3,1714.1C382,1719.8 383.1,1725.1 385.3,1731.5" fill="none" stroke="#b4b84c" stroke-width="2.2" stroke-linecap="round"/>
<path d="M385.3,1731.5C387.9,1739.4 390,1750.1 394.2,1758" fill="none" stroke="#c8c454" stroke-width="2.2" stroke-linecap="round"/>
<path d="M394.2,1758C398.1,1765.5 403.6,1772.8 409,1778" fill="none" stroke="#d8cc5c" stroke-width="2.2" stroke-linecap="round"/>
<path d="M409,1778C413.6,1782.5 418.3,1785.1 423.8,1788.4" fill="none" stroke="#e1ce60" stroke-width="2.2" stroke-linecap="round"/>
<path d="M423.8,1788.4C430,1792 437.3,1795.8 444.5,1798.7" fill="none" stroke="#e3ca60" stroke-width="2.2" stroke-linecap="round"/>
<path d="M444.5,1798.7C451.9,1801.6 459.7,1804.2 467.5,1805.8" fill="none" stroke="#e5c660" stroke-width="2.2" stroke-linecap="round"/>
<path d="M467.5,1805.8C475.3,1807.4 483.4,1809 491.2,1808.4" fill="none" stroke="#e7c260" stroke-width="2.2" stroke-linecap="round"/>
<path d="M491.2,1808.4C499,1807.7 508,1804.7 514.2,1801.9" fill="none" stroke="#eab864" stroke-width="2.2" stroke-linecap="round"/>
<path d="M514.2,1801.9C519,1799.7 521.4,1796.9 526.1,1794.2" fill="none" stroke="#eea86c" stroke-width="2.2" stroke-linecap="round"/>
<path d="M526.1,1794.2C532.2,1790.4 541.7,1785.6 548.3,1781.9" fill="none" stroke="#f09870" stroke-width="2.2" stroke-linecap="round"/>
<path d="M548.3,1781.9C553.5,1778.9 556.7,1776.5 562.4,1773.5" fill="none" stroke="#f08870" stroke-width="2.2" stroke-linecap="round"/>
<path d="M562.4,1773.5C570.3,1769.2 581.9,1763.6 592,1759.3" fill="none" stroke="#f06868" stroke-width="2.2" stroke-linecap="round"/>
<path d="M592,1759.3C602.2,1755 613.9,1751.7 623.1,1747.7" fill="none" stroke="#f04d60" stroke-width="2.2" stroke-linecap="round"/>
<path d="M623.1,1747.7C630.8,1744.3 637,1741.5 643.9,1737.3" fill="none" stroke="#f04860" stroke-width="2.2" stroke-linecap="round"/>
<path d="M643.9,1737.3C651.3,1732.8 660.1,1726.2 666.1,1721.2" fill="none" stroke="#f04360" stroke-width="2.2" stroke-linecap="round"/>
<path d="M666.1,1721.2C670.6,1717.5 673.7,1714.8 677.2,1710.9C680.9,1706.7 684.7,1702.2 687.6,1696.7C690.9,1690.4 693.1,1681.9 695,1674.7C696.8,1668 697.5,1661.4 698.7,1654.7" fill="none" stroke="#401018" stroke-width="2.2" stroke-linecap="round"/>
<line x1="295.6" y1="1848.4" x2="295.6" y2="1844.4" stroke="#000" stroke-width="2" />
<line x1="295.6" y1="1461" x2="295.6" y2="1465" stroke="#000" stroke-width="2" />
<line x1="332.7" y1="1848.4" x2="332.7" y2="1844.4" stroke="#000" stroke-width="2" />
<line x1="332.7" y1="1461" x2="332.7" y2="1465" stroke="#000" stroke-width="2" />
<line x1="369.7" y1="1848.4" x2="369.7" y2="1844.4" stroke="#000" stroke-width="2" />
<line x1="369.7" y1="1461" x2="369.7" y2="1465" stroke="#000" stroke-width="2" />
<line x1="406.8" y1="1848.4" x2="406.8" y2="1844.4" stroke="#000" stroke-width="2" />
<line x1="406.8" y1="1461" x2="406.8" y2="1465" stroke="#000" stroke-width="2" />
<line x1="443.8" y1="1848.4" x2="443.8" y2="1844.4" stroke="#000" stroke-width="2" />
<line x1="443.8" y1="1461" x2="443.8" y2="1465" stroke="#000" stroke-width="2" />
<line x1="480.9" y1="1848.4" x2="480.9" y2="1844.4" stroke="#000" stroke-width="2" />
<line x1="480.9" y1="1461" x2="480.9" y2="1465" stroke="#000" stroke-width="2" />
<line x1="517.9" y1="1848.4" x2="517.9" y2="1844.4" stroke="#000" stroke-width="2" />
<line x1="517.9" y1="1461" x2="517.9" y2="1465" stroke="#000" stroke-width="2" />
<line x1="555" y1="1848.4" x2="555" y2="1844.4" stroke="#000" stroke-width="2" />
<line x1="555" y1="1461" x2="555" y2="1465" stroke="#000" stroke-width="2" />
<line x1="592" y1="1848.4" x2="592" y2="1844.4" stroke="#000" stroke-width="2" />
<line x1="592" y1="1461" x2="592" y2="1465" stroke="#000" stroke-width="2" />
<line x1="629" y1="1848.4" x2="629" y2="1844.4" stroke="#000" stroke-width="2" />
<line x1="629" y1="1461" x2="629" y2="1465" stroke="#000" stroke-width="2" />
<line x1="666.1" y1="1848.4" x2="666.1" y2="1844.4" stroke="#000" stroke-width="2" />
<line x1="666.1" y1="1461" x2="666.1" y2="1465" stroke="#000" stroke-width="2" />
<line x1="703.2" y1="1848.4" x2="703.2" y2="1844.4" stroke="#000" stroke-width="2" />
<line x1="703.2" y1="1461" x2="703.2" y2="1465" stroke="#000" stroke-width="2" />
<line x1="740.2" y1="1848.4" x2="740.2" y2="1844.4" stroke="#000" stroke-width="2" />
<line x1="740.2" y1="1461" x2="740.2" y2="1465" stroke="#000" stroke-width="2" />
<line x1="295.6" y1="1848.4" x2="299.6" y2="1848.4" stroke="#000" stroke-width="2" />
<line x1="740.2" y1="1848.4" x2="736.2" y2="1848.4" stroke="#000" stroke-width="2" />
<line x1="295.6" y1="1816.1" x2="299.6" y2="1816.1" stroke="#000" stroke-width="2" />
<line x1="740.2" y1="1816.1" x2="736.2" y2="1816.1" stroke="#000" stroke-width="2" />
<line x1="295.6" y1="1783.8" x2="299.6" y2="1783.8" stroke="#000" stroke-width="2" />
<line x1="740.2" y1="1783.8" x2="736.2" y2="1783.8" stroke="#000" stroke-width="2" />
<line x1="295.6" y1="1751.6" x2="299.6" y2="1751.6" stroke="#000" stroke-width="2" />
<line x1="740.2" y1="1751.6" x2="736.2" y2="1751.6" stroke="#000" stroke-width="2" />
<line x1="295.6" y1="1719.3" x2="299.6" y2="1719.3" stroke="#000" stroke-width="2" />
<line x1="740.2" y1="1719.3" x2="736.2" y2="1719.3" stroke="#000" stroke-width="2" />
<line x1="295.6" y1="1687" x2="299.6" y2="1687" stroke="#000" stroke-width="2" />
<line x1="740.2" y1="1687" x2="736.2" y2="1687" stroke="#000" stroke-width="2" />
<line x1="295.6" y1="1654.7" x2="299.6" y2="1654.7" stroke="#000" stroke-width="2" />
<line x1="740.2" y1="1654.7" x2="736.2" y2="1654.7" stroke="#000" stroke-width="2" />
<line x1="295.6" y1="1622.4" x2="299.6" y2="1622.4" stroke="#000" stroke-width="2" />
<line x1="740.2" y1="1622.4" x2="736.2" y2="1622.4" stroke="#000" stroke-width="2" />
<line x1="295.6" y1="1590.1" x2="299.6" y2="1590.1" stroke="#000" stroke-width="2" />
<line x1="740.2" y1="1590.1" x2="736.2" y2="1590.1" stroke="#000" stroke-width="2" />
<line x1="295.6" y1="1557.8" x2="299.6" y2="1557.8" stroke="#000" stroke-width="2" />
<line x1="740.2" y1="1557.8" x2="736.2" y2="1557.8" stroke="#000" stroke-width="2" />
<line x1="295.6" y1="1525.6" x2="299.6" y2="1525.6" stroke="#000" stroke-width="2" />
<line x1="740.2" y1="1525.6" x2="736.2" y2="1525.6" stroke="#000" stroke-width="2" />
<line x1="295.6" y1="1493.3" x2="299.6" y2="1493.3" stroke="#000" stroke-width="2" />
<line x1="740.2" y1="1493.3" x2="736.2" y2="1493.3" stroke="#000" stroke-width="2" />
<line x1="295.6" y1="1461" x2="299.6" y2="1461" stroke="#000" stroke-width="2" />
<line x1="740.2" y1="1461" x2="736.2" y2="1461" stroke="#000" stroke-width="2" />
<rect x="295.6" y="1461" width="444.6" height="387.4" fill="none" stroke="#000" stroke-width="3.2" />
<text x="290.8" y="1859" font-size="36" text-anchor="end">-3</text>
<text x="290.8" y="1794.4" font-size="36" text-anchor="end">-2</text>
<text x="290.8" y="1729.9" font-size="36" text-anchor="end">-1</text>
<text x="290.8" y="1665.3" font-size="36" text-anchor="end">0</text>
<text x="290.8" y="1600.7" font-size="36" text-anchor="end">1</text>
<text x="290.8" y="1536.2" font-size="36" text-anchor="end">2</text>
<text x="290.8" y="1471.6" font-size="36" text-anchor="end">3</text>
<text x="295.6" y="1879.7" font-size="36" text-anchor="middle">-3</text>
<text x="369.7" y="1879.7" font-size="36" text-anchor="middle">-2</text>
<text x="443.8" y="1879.7" font-size="36" text-anchor="middle">-1</text>
<text x="517.9" y="1879.7" font-size="36" text-anchor="middle">0</text>
<text x="592" y="1879.7" font-size="36" text-anchor="middle">1</text>
<text x="666.1" y="1879.7" font-size="36" text-anchor="middle">2</text>
<text x="740.2" y="1879.7" font-size="36" text-anchor="middle">3</text>
<circle cx="403" cy="1511.6" r="1.6" fill="#000"/>
<circle cx="543.2" cy="1511.6" r="1.6" fill="#000"/>
<circle cx="627.4" cy="1611.8" r="1.6" fill="#000"/>
<circle cx="370.5" cy="1679.2" r="1.6" fill="#000"/>
<circle cx="546.5" cy="1776.8" r="1.6" fill="#000"/>
<circle cx="687.6" cy="1691.8" r="1.6" fill="#000"/>
<polygon points="653.9,1440.4 709.9,1448.8 740.8,1418.6 684.8,1410.2" fill="#8fb1ec" stroke="#8fb1ec" stroke-width="0.5" />
<polygon points="653.9,1440.4 709.9,1448.8 709.9,1468.2 653.9,1459.8" fill="#739de2" stroke="#739de2" stroke-width="0.5" />
<polygon points="709.9,1448.8 740.8,1418.6 740.8,1438 709.9,1468.2" fill="#5f86c8" stroke="#5f86c8" stroke-width="0.5" />
<polygon points="653.9,1459.8 709.9,1468.2 709.9,1488.4 653.9,1480" fill="#ffffff" stroke="#ffffff" stroke-width="0.5" />
<polygon points="709.9,1468.2 740.8,1438 740.8,1458.2 709.9,1488.4" fill="#d5d8dd" stroke="#d5d8dd" stroke-width="0.5" />
<polygon points="653.9,1480 709.9,1488.4 709.9,1508.6 653.9,1500.2" fill="#cdd4df" stroke="#cdd4df" stroke-width="0.5" />
<polygon points="709.9,1488.4 740.8,1458.2 740.8,1478.4 709.9,1508.6" fill="#adb5c3" stroke="#adb5c3" stroke-width="0.5" />
<polygon points="653.9,1500.2 709.9,1508.6 709.9,1541.4 653.9,1533" fill="#7b3b12" stroke="#7b3b12" stroke-width="0.5" />
<polygon points="709.9,1508.6 740.8,1478.4 740.8,1511.2 709.9,1541.4" fill="#663010" stroke="#663010" stroke-width="0.5" />
<line x1="367" y1="1931.6" x2="367" y2="2306.3" stroke="#6a6a6a" stroke-width="1.2" stroke-dasharray="6,4"/>
<line x1="438.5" y1="1931.6" x2="438.5" y2="2306.3" stroke="#6a6a6a" stroke-width="1.2" stroke-dasharray="6,4"/>
<line x1="509.9" y1="1931.6" x2="509.9" y2="2306.3" stroke="#6a6a6a" stroke-width="1.2" stroke-dasharray="6,4"/>
<line x1="581.3" y1="1931.6" x2="581.3" y2="2306.3" stroke="#6a6a6a" stroke-width="1.2" stroke-dasharray="6,4"/>
<line x1="652.8" y1="1931.6" x2="652.8" y2="2306.3" stroke="#6a6a6a" stroke-width="1.2" stroke-dasharray="6,4"/>
<line x1="295.6" y1="2243.9" x2="724.2" y2="2243.9" stroke="#6a6a6a" stroke-width="1.2" stroke-dasharray="6,4"/>
<line x1="295.6" y1="2181.4" x2="724.2" y2="2181.4" stroke="#6a6a6a" stroke-width="1.2" stroke-dasharray="6,4"/>
<line x1="295.6" y1="2118.9" x2="724.2" y2="2118.9" stroke="#6a6a6a" stroke-width="1.2" stroke-dasharray="6,4"/>
<line x1="295.6" y1="2056.5" x2="724.2" y2="2056.5" stroke="#6a6a6a" stroke-width="1.2" stroke-dasharray="6,4"/>
<line x1="295.6" y1="1994" x2="724.2" y2="1994" stroke="#6a6a6a" stroke-width="1.2" stroke-dasharray="6,4"/>
<path d="M693.8,2118.9C691.2,2106.7 689.1,2094.1 686,2082.1" fill="none" stroke="#5424e0" stroke-width="2.2" stroke-linecap="round"/>
<path d="M686,2082.1C682.9,2070.5 680,2060.3 675.3,2048.1" fill="none" stroke="#3c2ce0" stroke-width="2.2" stroke-linecap="round"/>
<path d="M675.3,2048.1C669.5,2033 661.2,2011.9 652.8,1998.7" fill="none" stroke="#2838e0" stroke-width="2.2" stroke-linecap="round"/>
<path d="M652.8,1998.7C646.3,1988.5 640.6,1981.1 631.7,1974.1" fill="none" stroke="#2054e2" stroke-width="2.2" stroke-linecap="round"/>
<path d="M631.7,1974.1C621.4,1966 605.1,1959.6 593.1,1954.7" fill="none" stroke="#207ce6" stroke-width="2.2" stroke-linecap="round"/>
<path d="M593.1,1954.7C583.2,1950.7 574.1,1947.6 565.3,1945.7" fill="none" stroke="#2095e5" stroke-width="2.2" stroke-linecap="round"/>
<path d="M565.3,1945.7C557.6,1944 550.1,1943 543.5,1943.2" fill="none" stroke="#20a0e0" stroke-width="2.2" stroke-linecap="round"/>
<path d="M543.5,1943.2C537.9,1943.3 533.4,1944.2 528.1,1945.7" fill="none" stroke="#20abdb" stroke-width="2.2" stroke-linecap="round"/>
<path d="M528.1,1945.7C522.2,1947.2 516.1,1949.2 509.9,1952.5" fill="none" stroke="#24b4ce" stroke-width="2.2" stroke-linecap="round"/>
<path d="M509.9,1952.5C502.3,1956.6 494.2,1963.8 486.3,1969.4" fill="none" stroke="#2cbcba" stroke-width="2.2" stroke-linecap="round"/>
<path d="M486.3,1969.4C478.6,1974.9 471.2,1981.5 463.1,1985.9C455.3,1990.2 447.2,1993.2 438.5,1995.9" fill="none" stroke="#30c0b0" stroke-width="2.2" stroke-linecap="round"/>
<path d="M438.5,1995.9C429.2,1998.8 418.5,1999.9 408.8,2002.5" fill="none" stroke="#30c0a3" stroke-width="2.2" stroke-linecap="round"/>
<path d="M408.8,2002.5C399.3,2005 388.4,2007.4 381,2010.9" fill="none" stroke="#30c088" stroke-width="2.2" stroke-linecap="round"/>
<path d="M381,2010.9C375.3,2013.6 371.5,2016.2 367,2020.3" fill="none" stroke="#30c06d" stroke-width="2.2" stroke-linecap="round"/>
<path d="M367,2020.3C361.7,2025.1 355.9,2032.4 351.7,2038.7" fill="none" stroke="#30c05d" stroke-width="2.2" stroke-linecap="round"/>
<path d="M351.7,2038.7C347.8,2044.5 345.3,2049.9 342.4,2056.5" fill="none" stroke="#30c058" stroke-width="2.2" stroke-linecap="round"/>
<path d="M342.4,2056.5C339,2064.2 336,2073.5 333.1,2082.1" fill="none" stroke="#30c053" stroke-width="2.2" stroke-linecap="round"/>
<path d="M333.1,2082.1C330.2,2090.8 327.4,2099.1 325.2,2108.3" fill="none" stroke="#68c848" stroke-width="2.2" stroke-linecap="round"/>
<path d="M325.2,2108.3C322.9,2118.5 320,2130.4 319.9,2140.8" fill="none" stroke="#a8d240" stroke-width="2.2" stroke-linecap="round"/>
<path d="M319.9,2140.8C319.8,2150.3 321.2,2161 323.8,2168.3" fill="none" stroke="#b8d640" stroke-width="2.2" stroke-linecap="round"/>
<path d="M323.8,2168.3C325.7,2173.7 328.5,2176.6 331.7,2181.4" fill="none" stroke="#c6da40" stroke-width="2.2" stroke-linecap="round"/>
<path d="M331.7,2181.4C335.8,2187.7 341.4,2195.5 347,2202.3" fill="none" stroke="#d2de40" stroke-width="2.2" stroke-linecap="round"/>
<path d="M347,2202.3C353.1,2209.6 360.3,2216.9 367,2223.9" fill="none" stroke="#dad840" stroke-width="2.2" stroke-linecap="round"/>
<path d="M367,2223.9C373.6,2230.7 379.7,2237.8 387,2243.9" fill="none" stroke="#dec840" stroke-width="2.2" stroke-linecap="round"/>
<path d="M387,2243.9C394.6,2250.1 403.3,2256 412,2260.7" fill="none" stroke="#e0b840" stroke-width="2.2" stroke-linecap="round"/>
<path d="M412,2260.7C420.5,2265.3 429.1,2268.6 438.5,2271.6" fill="none" stroke="#e0a840" stroke-width="2.2" stroke-linecap="round"/>
<path d="M438.5,2271.6C448.6,2274.9 459.6,2277.9 471,2279.4" fill="none" stroke="#e0983c" stroke-width="2.2" stroke-linecap="round"/>
<path d="M471,2279.4C483.3,2281.1 499.4,2280.9 509.9,2280.7" fill="none" stroke="#e08834" stroke-width="2.2" stroke-linecap="round"/>
<path d="M509.9,2280.7C517.1,2280.6 520.5,2280.6 528.1,2279.4" fill="none" stroke="#e06830" stroke-width="2.2" stroke-linecap="round"/>
<path d="M528.1,2279.4C541.3,2277.5 564.8,2273.2 581.7,2267" fill="none" stroke="#e04038" stroke-width="2.2" stroke-linecap="round"/>
<path d="M581.7,2267C598.3,2260.8 616.2,2251.1 628.8,2242.3" fill="none" stroke="#e02850" stroke-width="2.2" stroke-linecap="round"/>
<path d="M628.8,2242.3C638.7,2235.5 645.7,2228.4 652.8,2220.7" fill="none" stroke="#e01870" stroke-width="2.2" stroke-linecap="round"/>
<path d="M652.8,2220.7C659.5,2213.5 665.9,2204.9 670.6,2197.6" fill="none" stroke="#88104c" stroke-width="2.2" stroke-linecap="round"/>
<path d="M670.6,2197.6C674.5,2191.7 677.2,2187.7 679.9,2180.8C683.8,2171 686.8,2154.8 689.2,2143.6C691.2,2134.6 692.3,2127.2 693.8,2118.9" fill="none" stroke="#301018" stroke-width="2.2" stroke-linecap="round"/>
<line x1="295.6" y1="2306.3" x2="295.6" y2="2302.3" stroke="#000" stroke-width="2" />
<line x1="295.6" y1="1931.6" x2="295.6" y2="1935.6" stroke="#000" stroke-width="2" />
<line x1="331.3" y1="2306.3" x2="331.3" y2="2302.3" stroke="#000" stroke-width="2" />
<line x1="331.3" y1="1931.6" x2="331.3" y2="1935.6" stroke="#000" stroke-width="2" />
<line x1="367" y1="2306.3" x2="367" y2="2302.3" stroke="#000" stroke-width="2" />
<line x1="367" y1="1931.6" x2="367" y2="1935.6" stroke="#000" stroke-width="2" />
<line x1="402.8" y1="2306.3" x2="402.8" y2="2302.3" stroke="#000" stroke-width="2" />
<line x1="402.8" y1="1931.6" x2="402.8" y2="1935.6" stroke="#000" stroke-width="2" />
<line x1="438.5" y1="2306.3" x2="438.5" y2="2302.3" stroke="#000" stroke-width="2" />
<line x1="438.5" y1="1931.6" x2="438.5" y2="1935.6" stroke="#000" stroke-width="2" />
<line x1="474.2" y1="2306.3" x2="474.2" y2="2302.3" stroke="#000" stroke-width="2" />
<line x1="474.2" y1="1931.6" x2="474.2" y2="1935.6" stroke="#000" stroke-width="2" />
<line x1="509.9" y1="2306.3" x2="509.9" y2="2302.3" stroke="#000" stroke-width="2" />
<line x1="509.9" y1="1931.6" x2="509.9" y2="1935.6" stroke="#000" stroke-width="2" />
<line x1="545.6" y1="2306.3" x2="545.6" y2="2302.3" stroke="#000" stroke-width="2" />
<line x1="545.6" y1="1931.6" x2="545.6" y2="1935.6" stroke="#000" stroke-width="2" />
<line x1="581.3" y1="2306.3" x2="581.3" y2="2302.3" stroke="#000" stroke-width="2" />
<line x1="581.3" y1="1931.6" x2="581.3" y2="1935.6" stroke="#000" stroke-width="2" />
<line x1="617" y1="2306.3" x2="617" y2="2302.3" stroke="#000" stroke-width="2" />
<line x1="617" y1="1931.6" x2="617" y2="1935.6" stroke="#000" stroke-width="2" />
<line x1="652.8" y1="2306.3" x2="652.8" y2="2302.3" stroke="#000" stroke-width="2" />
<line x1="652.8" y1="1931.6" x2="652.8" y2="1935.6" stroke="#000" stroke-width="2" />
<line x1="688.5" y1="2306.3" x2="688.5" y2="2302.3" stroke="#000" stroke-width="2" />
<line x1="688.5" y1="1931.6" x2="688.5" y2="1935.6" stroke="#000" stroke-width="2" />
<line x1="724.2" y1="2306.3" x2="724.2" y2="2302.3" stroke="#000" stroke-width="2" />
<line x1="724.2" y1="1931.6" x2="724.2" y2="1935.6" stroke="#000" stroke-width="2" />
<line x1="295.6" y1="2306.3" x2="299.6" y2="2306.3" stroke="#000" stroke-width="2" />
<line x1="724.2" y1="2306.3" x2="720.2" y2="2306.3" stroke="#000" stroke-width="2" />
<line x1="295.6" y1="2275.1" x2="299.6" y2="2275.1" stroke="#000" stroke-width="2" />
<line x1="724.2" y1="2275.1" x2="720.2" y2="2275.1" stroke="#000" stroke-width="2" />
<line x1="295.6" y1="2243.9" x2="299.6" y2="2243.9" stroke="#000" stroke-width="2" />
<line x1="724.2" y1="2243.9" x2="720.2" y2="2243.9" stroke="#000" stroke-width="2" />
<line x1="295.6" y1="2212.6" x2="299.6" y2="2212.6" stroke="#000" stroke-width="2" />
<line x1="724.2" y1="2212.6" x2="720.2" y2="2212.6" stroke="#000" stroke-width="2" />
<line x1="295.6" y1="2181.4" x2="299.6" y2="2181.4" stroke="#000" stroke-width="2" />
<line x1="724.2" y1="2181.4" x2="720.2" y2="2181.4" stroke="#000" stroke-width="2" />
<line x1="295.6" y1="2150.2" x2="299.6" y2="2150.2" stroke="#000" stroke-width="2" />
<line x1="724.2" y1="2150.2" x2="720.2" y2="2150.2" stroke="#000" stroke-width="2" />
<line x1="295.6" y1="2118.9" x2="299.6" y2="2118.9" stroke="#000" stroke-width="2" />
<line x1="724.2" y1="2118.9" x2="720.2" y2="2118.9" stroke="#000" stroke-width="2" />
<line x1="295.6" y1="2087.7" x2="299.6" y2="2087.7" stroke="#000" stroke-width="2" />
<line x1="724.2" y1="2087.7" x2="720.2" y2="2087.7" stroke="#000" stroke-width="2" />
<line x1="295.6" y1="2056.5" x2="299.6" y2="2056.5" stroke="#000" stroke-width="2" />
<line x1="724.2" y1="2056.5" x2="720.2" y2="2056.5" stroke="#000" stroke-width="2" />
<line x1="295.6" y1="2025.3" x2="299.6" y2="2025.3" stroke="#000" stroke-width="2" />
<line x1="724.2" y1="2025.3" x2="720.2" y2="2025.3" stroke="#000" stroke-width="2" />
<line x1="295.6" y1="1994" x2="299.6" y2="1994" stroke="#000" stroke-width="2" />
<line x1="724.2" y1="1994" x2="720.2" y2="1994" stroke="#000" stroke-width="2" />
<line x1="295.6" y1="1962.8" x2="299.6" y2="1962.8" stroke="#000" stroke-width="2" />
<line x1="724.2" y1="1962.8" x2="720.2" y2="1962.8" stroke="#000" stroke-width="2" />
<line x1="295.6" y1="1931.6" x2="299.6" y2="1931.6" stroke="#000" stroke-width="2" />
<line x1="724.2" y1="1931.6" x2="720.2" y2="1931.6" stroke="#000" stroke-width="2" />
<rect x="295.6" y="1931.6" width="428.6" height="374.7" fill="none" stroke="#000" stroke-width="3.2" />
<text x="290.8" y="2316.9" font-size="36" text-anchor="end">-6</text>
<text x="290.8" y="2254.5" font-size="36" text-anchor="end">-4</text>
<text x="290.8" y="2192" font-size="36" text-anchor="end">-2</text>
<text x="290.8" y="2129.5" font-size="36" text-anchor="end">0</text>
<text x="290.8" y="2067.1" font-size="36" text-anchor="end">2</text>
<text x="290.8" y="2004.6" font-size="36" text-anchor="end">4</text>
<text x="290.8" y="1942.2" font-size="36" text-anchor="end">6</text>
<text x="295.6" y="2337.6" font-size="36" text-anchor="middle">-6</text>
<text x="367" y="2337.6" font-size="36" text-anchor="middle">-4</text>
<text x="438.5" y="2337.6" font-size="36" text-anchor="middle">-2</text>
<text x="509.9" y="2337.6" font-size="36" text-anchor="middle">0</text>
<text x="581.3" y="2337.6" font-size="36" text-anchor="middle">2</text>
<text x="652.8" y="2337.6" font-size="36" text-anchor="middle">4</text>
<text x="724.2" y="2337.6" font-size="36" text-anchor="middle">6</text>
<polygon points="665.4,1892.1 722.6,1900.2 751.6,1869.7 694.4,1861.6" fill="#e03a3a" stroke="#e03a3a" stroke-width="0.5" />
<polygon points="665.4,1892.1 722.6,1900.2 722.6,1919.9 665.4,1911.8" fill="#d60a0c" stroke="#d60a0c" stroke-width="0.5" />
<polygon points="722.6,1900.2 751.6,1869.7 751.6,1889.4 722.6,1919.9" fill="#b40012" stroke="#b40012" stroke-width="0.5" />
<polygon points="665.4,1911.8 722.6,1919.9 722.6,1938.4 665.4,1930.3" fill="#739de2" stroke="#739de2" stroke-width="0.5" />
<polygon points="722.6,1919.9 751.6,1889.4 751.6,1907.9 722.6,1938.4" fill="#5f86c8" stroke="#5f86c8" stroke-width="0.5" />
<polygon points="665.4,1930.3 722.6,1938.4 722.6,1959.2 665.4,1951.1" fill="#ffffff" stroke="#ffffff" stroke-width="0.5" />
<polygon points="722.6,1938.4 751.6,1907.9 751.6,1928.7 722.6,1959.2" fill="#d5d8dd" stroke="#d5d8dd" stroke-width="0.5" />
<polygon points="665.4,1951.1 722.6,1959.2 722.6,1978.5 665.4,1970.4" fill="#cdd4df" stroke="#cdd4df" stroke-width="0.5" />
<polygon points="722.6,1959.2 751.6,1928.7 751.6,1948 722.6,1978.5" fill="#adb5c3" stroke="#adb5c3" stroke-width="0.5" />
<polygon points="665.4,1970.4 722.6,1978.5 722.6,2008.6 665.4,2000.5" fill="#7b3b12" stroke="#7b3b12" stroke-width="0.5" />
<polygon points="722.6,1978.5 751.6,1948 751.6,1978.1 722.6,2008.6" fill="#663010" stroke="#663010" stroke-width="0.5" />
<line x1="961" y1="700.3" x2="1242.3" y2="914.6" stroke="#666" stroke-width="1.1" stroke-dasharray="2.5,2.5"/>
<path d="M938.8,772.8C944.6,771.3 950.3,770.5 956.3,768.4" fill="none" stroke="#2040d1" stroke-width="2.1" stroke-linecap="round"/>
<path d="M956.3,768.4C963.1,766 971.9,762.8 977.4,758.8" fill="none" stroke="#2040d3" stroke-width="2.1" stroke-linecap="round"/>
<path d="M977.4,758.8C981.9,755.5 985.2,752.2 987.9,747.4" fill="none" stroke="#2040d6" stroke-width="2.1" stroke-linecap="round"/>
<path d="M987.9,747.4C991.1,741.7 992.2,734.5 994,726.3" fill="none" stroke="#2040d8" stroke-width="2.1" stroke-linecap="round"/>
<path d="M994,726.3C996.4,715.4 998.1,700.8 1000.2,687.7" fill="none" stroke="#2994f0" stroke-width="2.1" stroke-linecap="round"/>
<path d="M1000.2,687.7C1002.4,674 1003.9,657.2 1007.2,645.6" fill="none" stroke="#2c9cf0" stroke-width="2.1" stroke-linecap="round"/>
<path d="M1007.2,645.6C1009.6,637 1013,624 1016,623.7" fill="none" stroke="#2fa4f0" stroke-width="2.1" stroke-linecap="round"/>
<path d="M1016,623.7C1018.3,623.5 1021.1,629.6 1023,635" fill="none" stroke="#28b4e0" stroke-width="2.1" stroke-linecap="round"/>
<path d="M1023,635C1026.8,645.4 1027.8,666.7 1030,684.2" fill="none" stroke="#20c0cd" stroke-width="2.1" stroke-linecap="round"/>
<path d="M1030,684.2C1032.5,704.3 1034.9,728.5 1037,749" fill="none" stroke="#20c0c6" stroke-width="2.1" stroke-linecap="round"/>
<path d="M1037,749C1038.9,767.5 1040.1,785.1 1042.3,801.8" fill="none" stroke="#20c0c0" stroke-width="2.1" stroke-linecap="round"/>
<path d="M1042.3,801.8C1044.3,817.1 1045.3,835.8 1049.3,845.6" fill="none" stroke="#20c0ba" stroke-width="2.1" stroke-linecap="round"/>
<path d="M1049.3,845.6C1051.6,851.3 1054.8,857.6 1058,857.9" fill="none" stroke="#20c0b3" stroke-width="2.1" stroke-linecap="round"/>
<path d="M1058,857.9C1061.2,858.2 1065.3,851.7 1068.6,847.4" fill="none" stroke="#20c088" stroke-width="2.1" stroke-linecap="round"/>
<path d="M1068.6,847.4C1072.7,842.1 1075.9,833.3 1080,828" fill="none" stroke="#28c258" stroke-width="2.1" stroke-linecap="round"/>
<path d="M1080,828C1083.4,823.6 1086.8,820.1 1091,817" fill="none" stroke="#38c648" stroke-width="2.1" stroke-linecap="round"/>
<path d="M1091,817C1095.3,813.9 1100.4,812.4 1105.4,809.5" fill="none" stroke="#60ca40" stroke-width="2.1" stroke-linecap="round"/>
<path d="M1105.4,809.5C1111,806.2 1117.4,802.4 1123,798.2" fill="none" stroke="#a0ce40" stroke-width="2.1" stroke-linecap="round"/>
<path d="M1123,798.2C1128.6,794 1134.1,789.4 1138.8,784.2" fill="none" stroke="#c5cf3d" stroke-width="2.1" stroke-linecap="round"/>
<path d="M1138.8,784.2C1143.5,778.9 1147.1,771.8 1151,766.7" fill="none" stroke="#d0cc38" stroke-width="2.1" stroke-linecap="round"/>
<path d="M1151,766.7C1154.3,762.4 1157.4,755.2 1160.6,755.3" fill="none" stroke="#dbc933" stroke-width="2.1" stroke-linecap="round"/>
<path d="M1160.6,755.3C1164.1,755.4 1168.6,763.6 1171.2,769.8" fill="none" stroke="#e8b428" stroke-width="2.1" stroke-linecap="round"/>
<path d="M1171.2,769.8C1174.8,778.2 1175.3,789.7 1177,802.6" fill="none" stroke="#f09420" stroke-width="2.1" stroke-linecap="round"/>
<path d="M1177,802.6C1179.4,821.1 1180.8,848.6 1182.8,870.2" fill="none" stroke="#f07c20" stroke-width="2.1" stroke-linecap="round"/>
<path d="M1182.8,870.2C1184.7,890.2 1186.4,909.6 1188.6,928" fill="none" stroke="#f06028" stroke-width="2.1" stroke-linecap="round"/>
<path d="M1188.6,928C1190.6,944.8 1191.9,965.4 1195.3,976.3" fill="none" stroke="#f04038" stroke-width="2.1" stroke-linecap="round"/>
<path d="M1195.3,976.3C1197.2,982.4 1199.9,990 1202.1,989.8" fill="none" stroke="#ec284c" stroke-width="2.1" stroke-linecap="round"/>
<path d="M1202.1,989.8C1204.8,989.6 1207.3,976.5 1209.8,966.7" fill="none" stroke="#e41864" stroke-width="2.1" stroke-linecap="round"/>
<path d="M1209.8,966.7C1213.9,950.5 1217.6,921 1221.4,901" fill="none" stroke="#d01068" stroke-width="2.1" stroke-linecap="round"/>
<path d="M1221.4,901C1224.6,884.2 1226.6,867.2 1231,854.7" fill="none" stroke="#b01058" stroke-width="2.1" stroke-linecap="round"/>
<path d="M1231,854.7C1234.2,845.4 1237.8,838.2 1242.6,831.6" fill="none" stroke="#701034" stroke-width="2.1" stroke-linecap="round"/>
<path d="M1242.6,831.6C1247,825.5 1252.4,820.3 1258,816.1C1263.4,812.1 1269.6,809.7 1275.4,806.5" fill="none" stroke="#401018" stroke-width="2.1" stroke-linecap="round"/>
<path d="M938.8,790.4C953.4,789.2 968.8,787.7 982.6,786.8" fill="none" stroke="#f06121" stroke-width="2.1" stroke-linecap="round"/>
<path d="M982.6,786.8C994.9,786 1007.5,786.2 1017.7,785.1" fill="none" stroke="#f06424" stroke-width="2.1" stroke-linecap="round"/>
<path d="M1017.7,785.1C1025.7,784.3 1032.8,784.3 1038.8,781.6" fill="none" stroke="#f06727" stroke-width="2.1" stroke-linecap="round"/>
<path d="M1038.8,781.6C1044.3,779.1 1048.5,775.1 1052.8,770.2" fill="none" stroke="#f0722a" stroke-width="2.1" stroke-linecap="round"/>
<path d="M1052.8,770.2C1058,764.2 1062.7,756.3 1066.8,747.4" fill="none" stroke="#f0862e" stroke-width="2.1" stroke-linecap="round"/>
<path d="M1066.8,747.4C1071.8,736.5 1074.5,720.1 1079.1,708.8" fill="none" stroke="#ee9830" stroke-width="2.1" stroke-linecap="round"/>
<path d="M1079.1,708.8C1082.9,699.5 1087.6,684.3 1091.4,684.2" fill="none" stroke="#eaa830" stroke-width="2.1" stroke-linecap="round"/>
<path d="M1091.4,684.2C1094.5,684.1 1097.8,693 1100.2,700" fill="none" stroke="#daac30" stroke-width="2.1" stroke-linecap="round"/>
<path d="M1100.2,700C1104.1,711.6 1105.2,732.4 1107.2,749.1" fill="none" stroke="#bea430" stroke-width="2.1" stroke-linecap="round"/>
<path d="M1107.2,749.1C1109.3,766.3 1110.5,783.6 1112.5,801.8" fill="none" stroke="#aca02c" stroke-width="2.1" stroke-linecap="round"/>
<path d="M1112.5,801.8C1114.6,821.5 1117,843.9 1119.5,863.2" fill="none" stroke="#a4a024" stroke-width="2.1" stroke-linecap="round"/>
<path d="M1119.5,863.2C1121.7,880.5 1122.7,901.9 1126.5,912.3" fill="none" stroke="#8c9020" stroke-width="2.1" stroke-linecap="round"/>
<path d="M1126.5,912.3C1128.4,917.7 1131.1,923.7 1133.5,923.7" fill="none" stroke="#647020" stroke-width="2.1" stroke-linecap="round"/>
<path d="M1133.5,923.7C1136.3,923.7 1139.7,914.9 1142.3,908.8" fill="none" stroke="#445820" stroke-width="2.1" stroke-linecap="round"/>
<path d="M1142.3,908.8C1145.9,900.4 1147.5,886.7 1151,877.2" fill="none" stroke="#2c4820" stroke-width="2.1" stroke-linecap="round"/>
<path d="M1151,877.2C1154.1,868.9 1158,861.5 1161.6,854.7C1164.7,848.7 1168.3,844 1171.2,838.3" fill="none" stroke="#204020" stroke-width="2.1" stroke-linecap="round"/>
<path d="M1171.2,838.3C1174.1,832.5 1175.6,824.5 1179,820" fill="none" stroke="#50c050" stroke-width="2.1" stroke-linecap="round"/>
<path d="M1179,820C1181.7,816.5 1184.7,814.8 1188.6,812.3" fill="none" stroke="#9bcb50" stroke-width="2.1" stroke-linecap="round"/>
<path d="M1188.6,812.3C1193.8,809 1201.2,806.1 1207.9,802.6" fill="none" stroke="#c5d053" stroke-width="2.1" stroke-linecap="round"/>
<path d="M1207.9,802.6C1215.3,798.7 1223.7,794.3 1231,790" fill="none" stroke="#d0d058" stroke-width="2.1" stroke-linecap="round"/>
<path d="M1231,790C1237.8,785.9 1244.5,782.5 1250.3,777.5" fill="none" stroke="#dbd05d" stroke-width="2.1" stroke-linecap="round"/>
<path d="M1250.3,777.5C1256.1,772.5 1261.4,766.9 1265.8,760.2" fill="none" stroke="#e3cb63" stroke-width="2.1" stroke-linecap="round"/>
<path d="M1265.8,760.2C1270.6,752.9 1274,744.3 1277.4,735.1" fill="none" stroke="#e8c068" stroke-width="2.1" stroke-linecap="round"/>
<path d="M1277.4,735.1C1281.2,724.6 1283.3,709.6 1287,700.3" fill="none" stroke="#edb56d" stroke-width="2.1" stroke-linecap="round"/>
<path d="M1287,700.3C1289.6,693.6 1292.8,683.9 1295.7,683.9" fill="none" stroke="#f09870" stroke-width="2.1" stroke-linecap="round"/>
<path d="M1295.7,683.9C1298.6,683.9 1302,693.3 1304.4,700.3" fill="none" stroke="#f07d70" stroke-width="2.1" stroke-linecap="round"/>
<path d="M1304.4,700.3C1308.2,711.3 1309.8,727.8 1312.1,744.7" fill="none" stroke="#f07870" stroke-width="2.1" stroke-linecap="round"/>
<path d="M1312.1,744.7C1315.1,766.9 1317.1,797 1319.8,821.9" fill="none" stroke="#f07370" stroke-width="2.1" stroke-linecap="round"/>
<path d="M1319.8,821.9C1322.3,845.2 1324.9,870.7 1327.5,889.5" fill="none" stroke="#f0686c" stroke-width="2.1" stroke-linecap="round"/>
<path d="M1327.5,889.5C1329.4,903 1330.4,918.6 1333.3,924.2" fill="none" stroke="#f05864" stroke-width="2.1" stroke-linecap="round"/>
<path d="M1333.3,924.2C1334.4,926.4 1335.8,928.2 1337.2,928" fill="none" stroke="#f04860" stroke-width="2.1" stroke-linecap="round"/>
<path d="M1337.2,928C1339.6,927.6 1342.4,918.8 1344.9,912.6" fill="none" stroke="#c03348" stroke-width="2.1" stroke-linecap="round"/>
<path d="M1344.9,912.6C1348.4,903.8 1350.6,890 1354.6,879.8" fill="none" stroke="#601818" stroke-width="2.1" stroke-linecap="round"/>
<path d="M1354.6,879.8C1358.4,870.2 1363.2,860.6 1368.1,852.8C1372.3,846.1 1376.5,840.3 1381.6,835.4C1386.5,830.7 1392.5,827.7 1398,823.9" fill="none" stroke="#501010" stroke-width="2.1" stroke-linecap="round"/>
<line x1="983.4" y1="1008.7" x2="983.4" y2="1005.2" stroke="#000" stroke-width="1.8" />
<line x1="983.4" y1="604.7" x2="983.4" y2="608.2" stroke="#000" stroke-width="1.8" />
<line x1="1028.2" y1="1008.7" x2="1028.2" y2="1005.2" stroke="#000" stroke-width="1.8" />
<line x1="1028.2" y1="604.7" x2="1028.2" y2="608.2" stroke="#000" stroke-width="1.8" />
<line x1="1072.9" y1="1008.7" x2="1072.9" y2="1005.2" stroke="#000" stroke-width="1.8" />
<line x1="1072.9" y1="604.7" x2="1072.9" y2="608.2" stroke="#000" stroke-width="1.8" />
<line x1="1117.7" y1="1008.7" x2="1117.7" y2="1005.2" stroke="#000" stroke-width="1.8" />
<line x1="1117.7" y1="604.7" x2="1117.7" y2="608.2" stroke="#000" stroke-width="1.8" />
<line x1="1162.4" y1="1008.7" x2="1162.4" y2="1005.2" stroke="#000" stroke-width="1.8" />
<line x1="1162.4" y1="604.7" x2="1162.4" y2="608.2" stroke="#000" stroke-width="1.8" />
<line x1="1207.2" y1="1008.7" x2="1207.2" y2="1005.2" stroke="#000" stroke-width="1.8" />
<line x1="1207.2" y1="604.7" x2="1207.2" y2="608.2" stroke="#000" stroke-width="1.8" />
<line x1="1251.9" y1="1008.7" x2="1251.9" y2="1005.2" stroke="#000" stroke-width="1.8" />
<line x1="1251.9" y1="604.7" x2="1251.9" y2="608.2" stroke="#000" stroke-width="1.8" />
<line x1="1296.7" y1="1008.7" x2="1296.7" y2="1005.2" stroke="#000" stroke-width="1.8" />
<line x1="1296.7" y1="604.7" x2="1296.7" y2="608.2" stroke="#000" stroke-width="1.8" />
<line x1="1341.4" y1="1008.7" x2="1341.4" y2="1005.2" stroke="#000" stroke-width="1.8" />
<line x1="1341.4" y1="604.7" x2="1341.4" y2="608.2" stroke="#000" stroke-width="1.8" />
<line x1="1386.2" y1="1008.7" x2="1386.2" y2="1005.2" stroke="#000" stroke-width="1.8" />
<line x1="1386.2" y1="604.7" x2="1386.2" y2="608.2" stroke="#000" stroke-width="1.8" />
<line x1="938.7" y1="975.1" x2="942.2" y2="975.1" stroke="#000" stroke-width="1.8" />
<line x1="1399" y1="975.1" x2="1395.5" y2="975.1" stroke="#000" stroke-width="1.8" />
<line x1="938.7" y1="941.4" x2="942.2" y2="941.4" stroke="#000" stroke-width="1.8" />
<line x1="1399" y1="941.4" x2="1395.5" y2="941.4" stroke="#000" stroke-width="1.8" />
<line x1="938.7" y1="907.7" x2="942.2" y2="907.7" stroke="#000" stroke-width="1.8" />
<line x1="1399" y1="907.7" x2="1395.5" y2="907.7" stroke="#000" stroke-width="1.8" />
<line x1="938.7" y1="874" x2="942.2" y2="874" stroke="#000" stroke-width="1.8" />
<line x1="1399" y1="874" x2="1395.5" y2="874" stroke="#000" stroke-width="1.8" />
<line x1="938.7" y1="840.4" x2="942.2" y2="840.4" stroke="#000" stroke-width="1.8" />
<line x1="1399" y1="840.4" x2="1395.5" y2="840.4" stroke="#000" stroke-width="1.8" />
<line x1="938.7" y1="806.7" x2="942.2" y2="806.7" stroke="#000" stroke-width="1.8" />
<line x1="1399" y1="806.7" x2="1395.5" y2="806.7" stroke="#000" stroke-width="1.8" />
<line x1="938.7" y1="773" x2="942.2" y2="773" stroke="#000" stroke-width="1.8" />
<line x1="1399" y1="773" x2="1395.5" y2="773" stroke="#000" stroke-width="1.8" />
<line x1="938.7" y1="739.4" x2="942.2" y2="739.4" stroke="#000" stroke-width="1.8" />
<line x1="1399" y1="739.4" x2="1395.5" y2="739.4" stroke="#000" stroke-width="1.8" />
<line x1="938.7" y1="705.7" x2="942.2" y2="705.7" stroke="#000" stroke-width="1.8" />
<line x1="1399" y1="705.7" x2="1395.5" y2="705.7" stroke="#000" stroke-width="1.8" />
<line x1="938.7" y1="672" x2="942.2" y2="672" stroke="#000" stroke-width="1.8" />
<line x1="1399" y1="672" x2="1395.5" y2="672" stroke="#000" stroke-width="1.8" />
<line x1="938.7" y1="638.4" x2="942.2" y2="638.4" stroke="#000" stroke-width="1.8" />
<line x1="1399" y1="638.4" x2="1395.5" y2="638.4" stroke="#000" stroke-width="1.8" />
<rect x="938.7" y="604.7" width="460.3" height="404" fill="none" stroke="#000" stroke-width="3.2" />
<text x="933.9" y="1019.3" font-size="36" text-anchor="end">-6</text>
<text x="933.9" y="952" font-size="36" text-anchor="end">-4</text>
<text x="933.9" y="884.6" font-size="36" text-anchor="end">-2</text>
<text x="933.9" y="817.3" font-size="36" text-anchor="end">0</text>
<text x="933.9" y="750" font-size="36" text-anchor="end">2</text>
<text x="933.9" y="682.6" font-size="36" text-anchor="end">4</text>
<text x="933.9" y="615.3" font-size="36" text-anchor="end">6</text>
<text x="938.7" y="1040" font-size="36" text-anchor="middle">36</text>
<text x="1028.2" y="1040" font-size="36" text-anchor="middle">39</text>
<text x="1117.7" y="1040" font-size="36" text-anchor="middle">42</text>
<text x="1207.2" y="1040" font-size="36" text-anchor="middle">45</text>
<text x="1296.7" y="1040" font-size="36" text-anchor="middle">48</text>
<text x="1386.2" y="1040" font-size="36" text-anchor="middle">51</text>
<line x1="979.6" y1="1303.2" x2="1328.5" y2="1559.8" stroke="#666" stroke-width="1.1" stroke-dasharray="2.5,2.5"/>
<path d="M950,1393.5C960.8,1391.9 972.4,1390.9 982.3,1388.7" fill="none" stroke="#2031d1" stroke-width="2.1" stroke-linecap="round"/>
<path d="M982.3,1388.7C991,1386.7 999.5,1384.8 1006.5,1381.4" fill="none" stroke="#2033d3" stroke-width="2.1" stroke-linecap="round"/>
<path d="M1006.5,1381.4C1012.7,1378.4 1018.3,1374 1022.6,1370.1" fill="none" stroke="#2034d4" stroke-width="2.1" stroke-linecap="round"/>
<path d="M1022.6,1370.1C1026,1367 1028.4,1364.4 1030.7,1360.4" fill="none" stroke="#2036d6" stroke-width="2.1" stroke-linecap="round"/>
<path d="M1030.7,1360.4C1033.5,1355.6 1035.3,1349.6 1037.2,1342.7" fill="none" stroke="#2038d8" stroke-width="2.1" stroke-linecap="round"/>
<path d="M1037.2,1342.7C1039.8,1333.3 1041.4,1320.9 1043.6,1308.8" fill="none" stroke="#30a2ee" stroke-width="2.1" stroke-linecap="round"/>
<path d="M1043.6,1308.8C1046.2,1294.8 1048.3,1276.2 1051.7,1263.6" fill="none" stroke="#30a6ea" stroke-width="2.1" stroke-linecap="round"/>
<path d="M1051.7,1263.6C1054.3,1254.2 1057.5,1239.6 1060.6,1239.4" fill="none" stroke="#30aae6" stroke-width="2.1" stroke-linecap="round"/>
<path d="M1060.6,1239.4C1062.9,1239.2 1065.8,1246.6 1067.8,1252.3" fill="none" stroke="#30aee2" stroke-width="2.1" stroke-linecap="round"/>
<path d="M1067.8,1252.3C1071.1,1261.8 1072.4,1277.2 1074.3,1292.6" fill="none" stroke="#28b8d0" stroke-width="2.1" stroke-linecap="round"/>
<path d="M1074.3,1292.6C1076.9,1313.2 1078.5,1341.8 1080.7,1365.3" fill="none" stroke="#20c0bc" stroke-width="2.1" stroke-linecap="round"/>
<path d="M1080.7,1365.3C1082.8,1387.4 1084.2,1411.6 1087.2,1429.8" fill="none" stroke="#20c0b4" stroke-width="2.1" stroke-linecap="round"/>
<path d="M1087.2,1429.8C1089.4,1443.5 1091.1,1458.5 1095.3,1465.3" fill="none" stroke="#20c0ac" stroke-width="2.1" stroke-linecap="round"/>
<path d="M1095.3,1465.3C1097.5,1468.9 1100.7,1472 1103.3,1471.8" fill="none" stroke="#20c0a4" stroke-width="2.1" stroke-linecap="round"/>
<path d="M1103.3,1471.8C1106.1,1471.5 1108.7,1465.9 1111.4,1462.1" fill="none" stroke="#28c070" stroke-width="2.1" stroke-linecap="round"/>
<path d="M1111.4,1462.1C1114.7,1457.5 1117.1,1450.8 1121.1,1446" fill="none" stroke="#38c140" stroke-width="2.1" stroke-linecap="round"/>
<path d="M1121.1,1446C1125.2,1441.1 1130.4,1436.8 1135.6,1433" fill="none" stroke="#48c440" stroke-width="2.1" stroke-linecap="round"/>
<path d="M1135.6,1433C1140.7,1429.3 1146.2,1426.7 1151.7,1423.4" fill="none" stroke="#58c740" stroke-width="2.1" stroke-linecap="round"/>
<path d="M1151.7,1423.4C1157.6,1419.9 1164.1,1416.6 1170,1412.5" fill="none" stroke="#90cc40" stroke-width="2.1" stroke-linecap="round"/>
<path d="M1170,1412.5C1176,1408.4 1182.3,1404.2 1187.2,1398.8" fill="none" stroke="#c5d03d" stroke-width="2.1" stroke-linecap="round"/>
<path d="M1187.2,1398.8C1192.1,1393.3 1195,1384.9 1199.2,1379.9" fill="none" stroke="#d0d038" stroke-width="2.1" stroke-linecap="round"/>
<path d="M1199.2,1379.9C1202.5,1375.9 1206.4,1370.4 1209.5,1370.4" fill="none" stroke="#dbd033" stroke-width="2.1" stroke-linecap="round"/>
<path d="M1209.5,1370.4C1212,1370.4 1214.5,1373.1 1216.4,1376.4" fill="none" stroke="#e8b028" stroke-width="2.1" stroke-linecap="round"/>
<path d="M1216.4,1376.4C1220.1,1382.7 1221.2,1396.6 1223.3,1409.1" fill="none" stroke="#f08822" stroke-width="2.1" stroke-linecap="round"/>
<path d="M1223.3,1409.1C1226,1425.7 1227.7,1447.3 1230.2,1467.6" fill="none" stroke="#f07826" stroke-width="2.1" stroke-linecap="round"/>
<path d="M1230.2,1467.6C1232.9,1489.6 1236,1515.4 1238.8,1536.3" fill="none" stroke="#f0682a" stroke-width="2.1" stroke-linecap="round"/>
<path d="M1238.8,1536.3C1241.1,1553.8 1242.7,1572.2 1245.7,1584.5" fill="none" stroke="#f0582e" stroke-width="2.1" stroke-linecap="round"/>
<path d="M1245.7,1584.5C1247.7,1592.4 1250.1,1603.3 1252.5,1603.4" fill="none" stroke="#f04038" stroke-width="2.1" stroke-linecap="round"/>
<path d="M1252.5,1603.4C1254.7,1603.5 1257.3,1594.9 1259.4,1587.9" fill="none" stroke="#e82058" stroke-width="2.1" stroke-linecap="round"/>
<path d="M1259.4,1587.9C1263.4,1574.6 1266,1546.4 1269.7,1527.7C1272.9,1511.2 1275.6,1495.4 1280,1481.3" fill="none" stroke="#e01070" stroke-width="2.1" stroke-linecap="round"/>
<path d="M1280,1481.3C1283.9,1468.8 1287.7,1455.6 1293.8,1446.9C1298.6,1440 1305.1,1435.7 1311,1431.4C1316.3,1427.5 1321.9,1425.1 1327.3,1422" fill="none" stroke="#401018" stroke-width="2.1" stroke-linecap="round"/>
<path d="M950,1401.6C963.4,1400.2 977.2,1399.3 990.3,1397.5" fill="none" stroke="#f07230" stroke-width="2.1" stroke-linecap="round"/>
<path d="M990.3,1397.5C1003,1395.8 1018.8,1395.9 1027.5,1391.1" fill="none" stroke="#f07530" stroke-width="2.1" stroke-linecap="round"/>
<path d="M1027.5,1391.1C1033.7,1387.6 1036.1,1381.8 1040.4,1376.5" fill="none" stroke="#f07830" stroke-width="2.1" stroke-linecap="round"/>
<path d="M1040.4,1376.5C1045.2,1370.6 1049.4,1362.8 1054.9,1357.2" fill="none" stroke="#ea8830" stroke-width="2.1" stroke-linecap="round"/>
<path d="M1054.9,1357.2C1060.2,1351.8 1067.3,1344 1072.7,1343.5" fill="none" stroke="#e39830" stroke-width="2.1" stroke-linecap="round"/>
<path d="M1072.7,1343.5C1076.8,1343.1 1080.8,1345.5 1084,1349.1" fill="none" stroke="#d0a030" stroke-width="2.1" stroke-linecap="round"/>
<path d="M1084,1349.1C1089.3,1355.1 1091.9,1369.9 1095.3,1381.4" fill="none" stroke="#b0a030" stroke-width="2.1" stroke-linecap="round"/>
<path d="M1095.3,1381.4C1099,1394 1101.6,1408.7 1104.9,1421.7" fill="none" stroke="#90902c" stroke-width="2.1" stroke-linecap="round"/>
<path d="M1104.9,1421.7C1108,1433.9 1110.5,1447.4 1114.6,1457.2" fill="none" stroke="#707024" stroke-width="2.1" stroke-linecap="round"/>
<path d="M1114.6,1457.2C1117.8,1464.9 1121.6,1475.3 1125.9,1476.6" fill="none" stroke="#505020" stroke-width="2.1" stroke-linecap="round"/>
<path d="M1125.9,1476.6C1128.9,1477.5 1132.5,1474.7 1135.6,1471.8" fill="none" stroke="#383c20" stroke-width="2.1" stroke-linecap="round"/>
<path d="M1135.6,1471.8C1140.3,1467.3 1142.9,1455.2 1148.5,1449.2" fill="none" stroke="#283420" stroke-width="2.1" stroke-linecap="round"/>
<path d="M1148.5,1449.2C1153.8,1443.5 1160.7,1440.6 1167.9,1436.3" fill="none" stroke="#284028" stroke-width="2.1" stroke-linecap="round"/>
<path d="M1167.9,1436.3C1176.3,1431.3 1186.7,1426 1195.8,1421.1" fill="none" stroke="#388058" stroke-width="2.1" stroke-linecap="round"/>
<path d="M1195.8,1421.1C1204.6,1416.4 1214,1412.1 1221.6,1407.4" fill="none" stroke="#68b868" stroke-width="2.1" stroke-linecap="round"/>
<path d="M1221.6,1407.4C1228.1,1403.4 1233.4,1400.3 1238.8,1395.3" fill="none" stroke="#a4c454" stroke-width="2.1" stroke-linecap="round"/>
<path d="M1238.8,1395.3C1244.9,1389.7 1250.8,1381.7 1256,1374.7" fill="none" stroke="#cccc5c" stroke-width="2.1" stroke-linecap="round"/>
<path d="M1256,1374.7C1261,1368 1264.6,1359.5 1269.7,1354.1" fill="none" stroke="#e2cc60" stroke-width="2.1" stroke-linecap="round"/>
<path d="M1269.7,1354.1C1273.9,1349.6 1279.1,1344.2 1283.5,1343.8" fill="none" stroke="#e6c460" stroke-width="2.1" stroke-linecap="round"/>
<path d="M1283.5,1343.8C1287.1,1343.5 1290.8,1345.8 1293.8,1348.9" fill="none" stroke="#eab860" stroke-width="2.1" stroke-linecap="round"/>
<path d="M1293.8,1348.9C1298.3,1353.6 1301.2,1363.8 1304.1,1373" fill="none" stroke="#eea860" stroke-width="2.1" stroke-linecap="round"/>
<path d="M1304.1,1373C1307.7,1384.4 1310.1,1399.6 1312.7,1412.5" fill="none" stroke="#f09863" stroke-width="2.1" stroke-linecap="round"/>
<path d="M1312.7,1412.5C1315.2,1424.8 1316.5,1438.4 1319.6,1448.6" fill="none" stroke="#f08868" stroke-width="2.1" stroke-linecap="round"/>
<path d="M1319.6,1448.6C1322,1456.6 1324.7,1464.3 1328.2,1469.3" fill="none" stroke="#f0786d" stroke-width="2.1" stroke-linecap="round"/>
<path d="M1328.2,1469.3C1330.7,1472.9 1333.8,1477 1336.8,1477" fill="none" stroke="#f0686c" stroke-width="2.1" stroke-linecap="round"/>
<path d="M1336.8,1477C1340.1,1477 1343.4,1471.2 1347.1,1467.5" fill="none" stroke="#f05864" stroke-width="2.1" stroke-linecap="round"/>
<path d="M1347.1,1467.5C1351.8,1462.7 1357.1,1455.6 1362.6,1450.4C1368,1445.3 1373,1441 1379.8,1436.6" fill="none" stroke="#f05060" stroke-width="2.1" stroke-linecap="round"/>
<path d="M1379.8,1436.6C1388.4,1431.1 1400.4,1426.3 1410.7,1421.1" fill="none" stroke="#401018" stroke-width="2.1" stroke-linecap="round"/>
<line x1="996.1" y1="1623.4" x2="996.1" y2="1619.9" stroke="#000" stroke-width="1.8" />
<line x1="996.1" y1="1219.9" x2="996.1" y2="1223.4" stroke="#000" stroke-width="1.8" />
<line x1="1042.1" y1="1623.4" x2="1042.1" y2="1619.9" stroke="#000" stroke-width="1.8" />
<line x1="1042.1" y1="1219.9" x2="1042.1" y2="1223.4" stroke="#000" stroke-width="1.8" />
<line x1="1088.2" y1="1623.4" x2="1088.2" y2="1619.9" stroke="#000" stroke-width="1.8" />
<line x1="1088.2" y1="1219.9" x2="1088.2" y2="1223.4" stroke="#000" stroke-width="1.8" />
<line x1="1134.3" y1="1623.4" x2="1134.3" y2="1619.9" stroke="#000" stroke-width="1.8" />
<line x1="1134.3" y1="1219.9" x2="1134.3" y2="1223.4" stroke="#000" stroke-width="1.8" />
<line x1="1180.3" y1="1623.4" x2="1180.3" y2="1619.9" stroke="#000" stroke-width="1.8" />
<line x1="1180.3" y1="1219.9" x2="1180.3" y2="1223.4" stroke="#000" stroke-width="1.8" />
<line x1="1226.4" y1="1623.4" x2="1226.4" y2="1619.9" stroke="#000" stroke-width="1.8" />
<line x1="1226.4" y1="1219.9" x2="1226.4" y2="1223.4" stroke="#000" stroke-width="1.8" />
<line x1="1272.5" y1="1623.4" x2="1272.5" y2="1619.9" stroke="#000" stroke-width="1.8" />
<line x1="1272.5" y1="1219.9" x2="1272.5" y2="1223.4" stroke="#000" stroke-width="1.8" />
<line x1="1318.5" y1="1623.4" x2="1318.5" y2="1619.9" stroke="#000" stroke-width="1.8" />
<line x1="1318.5" y1="1219.9" x2="1318.5" y2="1223.4" stroke="#000" stroke-width="1.8" />
<line x1="1364.6" y1="1623.4" x2="1364.6" y2="1619.9" stroke="#000" stroke-width="1.8" />
<line x1="1364.6" y1="1219.9" x2="1364.6" y2="1223.4" stroke="#000" stroke-width="1.8" />
<line x1="950" y1="1589.8" x2="953.5" y2="1589.8" stroke="#000" stroke-width="1.8" />
<line x1="1410.6" y1="1589.8" x2="1407.1" y2="1589.8" stroke="#000" stroke-width="1.8" />
<line x1="950" y1="1556.2" x2="953.5" y2="1556.2" stroke="#000" stroke-width="1.8" />
<line x1="1410.6" y1="1556.2" x2="1407.1" y2="1556.2" stroke="#000" stroke-width="1.8" />
<line x1="950" y1="1522.5" x2="953.5" y2="1522.5" stroke="#000" stroke-width="1.8" />
<line x1="1410.6" y1="1522.5" x2="1407.1" y2="1522.5" stroke="#000" stroke-width="1.8" />
<line x1="950" y1="1488.9" x2="953.5" y2="1488.9" stroke="#000" stroke-width="1.8" />
<line x1="1410.6" y1="1488.9" x2="1407.1" y2="1488.9" stroke="#000" stroke-width="1.8" />
<line x1="950" y1="1455.3" x2="953.5" y2="1455.3" stroke="#000" stroke-width="1.8" />
<line x1="1410.6" y1="1455.3" x2="1407.1" y2="1455.3" stroke="#000" stroke-width="1.8" />
<line x1="950" y1="1421.7" x2="953.5" y2="1421.7" stroke="#000" stroke-width="1.8" />
<line x1="1410.6" y1="1421.7" x2="1407.1" y2="1421.7" stroke="#000" stroke-width="1.8" />
<line x1="950" y1="1388" x2="953.5" y2="1388" stroke="#000" stroke-width="1.8" />
<line x1="1410.6" y1="1388" x2="1407.1" y2="1388" stroke="#000" stroke-width="1.8" />
<line x1="950" y1="1354.4" x2="953.5" y2="1354.4" stroke="#000" stroke-width="1.8" />
<line x1="1410.6" y1="1354.4" x2="1407.1" y2="1354.4" stroke="#000" stroke-width="1.8" />
<line x1="950" y1="1320.8" x2="953.5" y2="1320.8" stroke="#000" stroke-width="1.8" />
<line x1="1410.6" y1="1320.8" x2="1407.1" y2="1320.8" stroke="#000" stroke-width="1.8" />
<line x1="950" y1="1287.1" x2="953.5" y2="1287.1" stroke="#000" stroke-width="1.8" />
<line x1="1410.6" y1="1287.1" x2="1407.1" y2="1287.1" stroke="#000" stroke-width="1.8" />
<line x1="950" y1="1253.5" x2="953.5" y2="1253.5" stroke="#000" stroke-width="1.8" />
<line x1="1410.6" y1="1253.5" x2="1407.1" y2="1253.5" stroke="#000" stroke-width="1.8" />
<rect x="950" y="1219.9" width="460.6" height="403.5" fill="none" stroke="#000" stroke-width="3.2" />
<text x="945.2" y="1634" font-size="36" text-anchor="end">-6</text>
<text x="945.2" y="1566.8" font-size="36" text-anchor="end">-4</text>
<text x="945.2" y="1499.5" font-size="36" text-anchor="end">-2</text>
<text x="945.2" y="1432.2" font-size="36" text-anchor="end">0</text>
<text x="945.2" y="1365" font-size="36" text-anchor="end">2</text>
<text x="945.2" y="1297.7" font-size="36" text-anchor="end">4</text>
<text x="945.2" y="1230.5" font-size="36" text-anchor="end">6</text>
<text x="950" y="1654.7" font-size="36" text-anchor="middle">36</text>
<text x="1042.1" y="1654.7" font-size="36" text-anchor="middle">39</text>
<text x="1134.3" y="1654.7" font-size="36" text-anchor="middle">42</text>
<text x="1226.4" y="1654.7" font-size="36" text-anchor="middle">45</text>
<text x="1318.5" y="1654.7" font-size="36" text-anchor="middle">48</text>
<text x="1410.7" y="1654.7" font-size="36" text-anchor="middle">51</text>
<path d="M956.1,1885.1C971.6,1883.6 987.2,1882.3 1002.6,1880.7C1017.9,1879.1 1037.5,1878.6 1048.2,1875.4C1054.5,1873.5 1057.6,1870.6 1062.3,1868.4" fill="none" stroke="#2040e0" stroke-width="2.1" stroke-linecap="round"/>
<path d="M1062.3,1868.4C1066.9,1866.2 1071.1,1863 1076.3,1862.3" fill="none" stroke="#20a8c8" stroke-width="2.1" stroke-linecap="round"/>
<path d="M1076.3,1862.3C1082.1,1861.5 1088.6,1863.2 1095.6,1864.9" fill="none" stroke="#20b0c0" stroke-width="2.1" stroke-linecap="round"/>
<path d="M1095.6,1864.9C1104.6,1867.1 1115.9,1871.2 1125.4,1875.4" fill="none" stroke="#30b8a0" stroke-width="2.1" stroke-linecap="round"/>
<path d="M1125.4,1875.4C1134.6,1879.5 1143.2,1884.1 1151.8,1889.5" fill="none" stroke="#40c070" stroke-width="2.1" stroke-linecap="round"/>
<path d="M1151.8,1889.5C1160.8,1895.1 1169.6,1901.5 1178.4,1908.4" fill="none" stroke="#80c850" stroke-width="2.1" stroke-linecap="round"/>
<path d="M1178.4,1908.4C1187.9,1915.9 1197.9,1925.1 1206.8,1933" fill="none" stroke="#c0d040" stroke-width="2.1" stroke-linecap="round"/>
<path d="M1206.8,1933C1214.9,1940.2 1221.8,1949.5 1229.6,1953.9" fill="none" stroke="#d8c040" stroke-width="2.1" stroke-linecap="round"/>
<path d="M1229.6,1953.9C1235.8,1957.4 1242.8,1956.7 1248.5,1959.6" fill="none" stroke="#e09040" stroke-width="2.1" stroke-linecap="round"/>
<path d="M1248.5,1959.6C1254.1,1962.4 1258.5,1966.7 1263.7,1971" fill="none" stroke="#e07040" stroke-width="2.1" stroke-linecap="round"/>
<path d="M1263.7,1971C1269.8,1976 1275.6,1983 1282.6,1988" fill="none" stroke="#e03050" stroke-width="2.1" stroke-linecap="round"/>
<path d="M1282.6,1988C1290,1993.2 1299.1,1997.4 1307.3,2001.3" fill="none" stroke="#d02070" stroke-width="2.1" stroke-linecap="round"/>
<path d="M1307.3,2001.3C1314.9,2004.9 1322.8,2009.3 1330,2010.7" fill="none" stroke="#a01850" stroke-width="2.1" stroke-linecap="round"/>
<path d="M1330,2010.7C1336,2011.9 1341.4,2011.9 1347,2010.7C1352.8,2009.5 1358.5,2006.8 1364.1,2003.2" fill="none" stroke="#501020" stroke-width="2.1" stroke-linecap="round"/>
<path d="M1364.1,2003.2C1370.6,1999 1377.1,1993.3 1383,1986.1C1390.3,1977.1 1396.3,1963.4 1402.9,1952" fill="none" stroke="#402010" stroke-width="2.1" stroke-linecap="round"/>
<path d="M956.1,1883.3C971.6,1881.6 987.2,1879.9 1002.6,1878.1C1017.9,1876.4 1037.4,1875.4 1048.2,1872.8C1054.4,1871.3 1058,1870.6 1062.3,1867.5" fill="none" stroke="#2040e0" stroke-width="2.1" stroke-linecap="round"/>
<path d="M1062.3,1867.5C1067.5,1863.8 1071,1855.7 1076.3,1850.9" fill="none" stroke="#20a0f0" stroke-width="2.1" stroke-linecap="round"/>
<path d="M1076.3,1850.9C1081.6,1846.1 1087.8,1841.6 1093.9,1838.6" fill="none" stroke="#20a8f0" stroke-width="2.1" stroke-linecap="round"/>
<path d="M1093.9,1838.6C1099.5,1835.9 1106,1832.8 1111.4,1833.3" fill="none" stroke="#20b0f0" stroke-width="2.1" stroke-linecap="round"/>
<path d="M1111.4,1833.3C1116.4,1833.7 1121.1,1836.8 1125.4,1840.4" fill="none" stroke="#20b8e0" stroke-width="2.1" stroke-linecap="round"/>
<path d="M1125.4,1840.4C1130.7,1844.9 1135.3,1852.3 1139.5,1859.6" fill="none" stroke="#30c0a0" stroke-width="2.1" stroke-linecap="round"/>
<path d="M1139.5,1859.6C1144.3,1867.8 1147.5,1876.1 1151.8,1887.7" fill="none" stroke="#30c060" stroke-width="2.1" stroke-linecap="round"/>
<path d="M1151.8,1887.7C1158.3,1905.3 1165.2,1936.1 1172.7,1955.8C1178.7,1971.6 1185.2,1983.5 1191.7,1997.5" fill="none" stroke="#30c040" stroke-width="2.1" stroke-linecap="round"/>
<path d="M1191.7,1997.5C1198.4,2011.9 1204.9,2029.2 1212.5,2041" fill="none" stroke="#30c0a0" stroke-width="2.1" stroke-linecap="round"/>
<path d="M1212.5,2041C1218.4,2050.3 1225.5,2059 1231.5,2063.8" fill="none" stroke="#50c080" stroke-width="2.1" stroke-linecap="round"/>
<path d="M1231.5,2063.8C1235.4,2066.9 1238.8,2069.1 1242.8,2069.5" fill="none" stroke="#a0c040" stroke-width="2.1" stroke-linecap="round"/>
<path d="M1242.8,2069.5C1247,2069.9 1251.3,2068.1 1256.1,2065.7" fill="none" stroke="#c0d040" stroke-width="2.1" stroke-linecap="round"/>
<path d="M1256.1,2065.7C1263,2062.3 1271.7,2055.9 1278.8,2048.6" fill="none" stroke="#d0d050" stroke-width="2.1" stroke-linecap="round"/>
<path d="M1278.8,2048.6C1287.1,2040 1294.7,2027.9 1301.6,2016.4" fill="none" stroke="#e0d050" stroke-width="2.1" stroke-linecap="round"/>
<path d="M1301.6,2016.4C1308.7,2004.5 1314.7,1990.3 1320.5,1978.5" fill="none" stroke="#f0c060" stroke-width="2.1" stroke-linecap="round"/>
<path d="M1320.5,1978.5C1325.6,1968.1 1330,1959 1334.7,1949.2" fill="none" stroke="#f0a060" stroke-width="2.1" stroke-linecap="round"/>
<path d="M956.1,1881.6C971.6,1879.5 986.7,1878.3 1002.6,1875.4" fill="none" stroke="#e07030" stroke-width="2.1" stroke-linecap="round"/>
<path d="M1002.6,1875.4C1019.7,1872.3 1043.7,1868.6 1055.3,1863.2" fill="none" stroke="#e07830" stroke-width="2.1" stroke-linecap="round"/>
<path d="M1055.3,1863.2C1061.9,1860.1 1064.8,1856.7 1069.3,1852.6" fill="none" stroke="#e08030" stroke-width="2.1" stroke-linecap="round"/>
<path d="M1069.3,1852.6C1074.2,1848.1 1077.8,1841 1083.3,1836.8" fill="none" stroke="#e09830" stroke-width="2.1" stroke-linecap="round"/>
<path d="M1083.3,1836.8C1088.9,1832.5 1096.4,1827.5 1102.6,1827.2" fill="none" stroke="#e0a830" stroke-width="2.1" stroke-linecap="round"/>
<path d="M1102.6,1827.2C1108.1,1826.9 1113.7,1829.7 1118.4,1833.3" fill="none" stroke="#e0b040" stroke-width="2.1" stroke-linecap="round"/>
<path d="M1118.4,1833.3C1123.9,1837.6 1128.1,1845.9 1132.5,1852.6" fill="none" stroke="#e0b840" stroke-width="2.1" stroke-linecap="round"/>
<path d="M1132.5,1852.6C1136.9,1859.4 1141.1,1866.9 1144.7,1873.7" fill="none" stroke="#d8c040" stroke-width="2.1" stroke-linecap="round"/>
<path d="M1144.7,1873.7C1148,1879.8 1150.3,1885 1153.5,1891.2" fill="none" stroke="#c8c040" stroke-width="2.1" stroke-linecap="round"/>
<path d="M1153.5,1891.2C1157.2,1898.3 1161.7,1906.4 1165.8,1914" fill="none" stroke="#c0c040" stroke-width="2.1" stroke-linecap="round"/>
<path d="M1165.8,1914C1170,1921.6 1173.5,1927.4 1178.4,1936.8" fill="none" stroke="#d0c050" stroke-width="2.1" stroke-linecap="round"/>
<path d="M1178.4,1936.8C1186.1,1951.4 1197.3,1974.7 1206.8,1993.7" fill="none" stroke="#e0c050" stroke-width="2.1" stroke-linecap="round"/>
<path d="M1206.8,1993.7C1216.3,2012.6 1225.5,2036.3 1235.3,2050.5" fill="none" stroke="#f0a050" stroke-width="2.1" stroke-linecap="round"/>
<path d="M1235.3,2050.5C1242.1,2060.4 1248,2067.6 1256.1,2073.3" fill="none" stroke="#f08050" stroke-width="2.1" stroke-linecap="round"/>
<path d="M1256.1,2073.3C1263.9,2078.8 1273.5,2083.7 1282.6,2084.6" fill="none" stroke="#f06060" stroke-width="2.1" stroke-linecap="round"/>
<path d="M1282.6,2084.6C1291.8,2085.5 1301.9,2082.9 1311,2078.9" fill="none" stroke="#f05060" stroke-width="2.1" stroke-linecap="round"/>
<path d="M1311,2078.9C1321,2074.5 1331,2066.7 1339.5,2058.1" fill="none" stroke="#802020" stroke-width="2.1" stroke-linecap="round"/>
<path d="M1339.5,2058.1C1348.8,2048.7 1356.5,2037 1364.1,2024" fill="none" stroke="#601818" stroke-width="2.1" stroke-linecap="round"/>
<path d="M1364.1,2024C1373.1,2008.6 1380.5,1988.6 1388.7,1970.9" fill="none" stroke="#401010" stroke-width="2.1" stroke-linecap="round"/>
<path d="M956.1,1868.4C965.8,1866.4 975.2,1864.6 985.1,1862.3" fill="none" stroke="#e07030" stroke-width="2.1" stroke-linecap="round"/>
<path d="M985.1,1862.3C995.4,1859.9 1009.6,1857.4 1016.7,1854.4" fill="none" stroke="#e07830" stroke-width="2.1" stroke-linecap="round"/>
<path d="M1016.7,1854.4C1020.7,1852.7 1022.3,1851.7 1025.4,1849.1" fill="none" stroke="#e08830" stroke-width="2.1" stroke-linecap="round"/>
<path d="M1025.4,1849.1C1030.2,1845.2 1035.3,1837.2 1041.2,1831.6" fill="none" stroke="#e09830" stroke-width="2.1" stroke-linecap="round"/>
<path d="M1041.2,1831.6C1047.5,1825.5 1054.5,1818 1062.3,1814" fill="none" stroke="#e0b040" stroke-width="2.1" stroke-linecap="round"/>
<path d="M1062.3,1814C1069.8,1810.2 1078.9,1808.4 1086.8,1807.9" fill="none" stroke="#e0c040" stroke-width="2.1" stroke-linecap="round"/>
<path d="M1086.8,1807.9C1094.1,1807.5 1101.5,1807.8 1107.9,1810.5" fill="none" stroke="#d0c040" stroke-width="2.1" stroke-linecap="round"/>
<path d="M1107.9,1810.5C1114.4,1813.3 1120,1818.5 1125.4,1824.6" fill="none" stroke="#406030" stroke-width="2.1" stroke-linecap="round"/>
<path d="M1125.4,1824.6C1131.9,1831.9 1138.6,1842.6 1143,1852.6C1147.4,1862.5 1148.5,1873.2 1151.8,1884.2" fill="none" stroke="#204020" stroke-width="2.1" stroke-linecap="round"/>
<path d="M1151.8,1884.2C1155.4,1896.5 1159.5,1910.3 1164,1922.8" fill="none" stroke="#30a040" stroke-width="2.1" stroke-linecap="round"/>
<path d="M1164,1922.8C1168.3,1934.9 1174.1,1946.2 1178.1,1957.9" fill="none" stroke="#30c040" stroke-width="2.1" stroke-linecap="round"/>
<path d="M1178.1,1957.9C1182,1969.2 1184.6,1980.8 1187.9,1991.8" fill="none" stroke="#204020" stroke-width="2.1" stroke-linecap="round"/>
<path d="M1187.9,1991.8C1191,2002.2 1194,2010.4 1197.4,2022.1" fill="none" stroke="#a0b030" stroke-width="2.1" stroke-linecap="round"/>
<path d="M1197.4,2022.1C1202,2038 1206.7,2061.6 1212.5,2078.9" fill="none" stroke="#e0d030" stroke-width="2.1" stroke-linecap="round"/>
<path d="M1212.5,2078.9C1217.6,2094.1 1222.6,2111.6 1229.6,2120.6" fill="none" stroke="#f0b030" stroke-width="2.1" stroke-linecap="round"/>
<path d="M1229.6,2120.6C1234.1,2126.4 1239.5,2131.5 1244.7,2132" fill="none" stroke="#f08040" stroke-width="2.1" stroke-linecap="round"/>
<path d="M1244.7,2132C1249.6,2132.5 1255,2129.1 1259.9,2124.4" fill="none" stroke="#f04050" stroke-width="2.1" stroke-linecap="round"/>
<path d="M1259.9,2124.4C1268,2116.5 1276,2098.3 1282.6,2082.7" fill="none" stroke="#f03060" stroke-width="2.1" stroke-linecap="round"/>
<path d="M1282.6,2082.7C1290.2,2064.7 1296.3,2042.9 1301.6,2022.1" fill="none" stroke="#e01080" stroke-width="2.1" stroke-linecap="round"/>
<path d="M1301.6,2022.1C1307.1,2000.6 1310.3,1976.8 1314.8,1955.8" fill="none" stroke="#c01070" stroke-width="2.1" stroke-linecap="round"/>
<path d="M1314.8,1955.8C1318.9,1936.6 1323.1,1919.1 1327.2,1900.8" fill="none" stroke="#400820" stroke-width="2.1" stroke-linecap="round"/>
<path d="M1080.7,1960.5 C1083,1935 1092,1918 1104.4,1907" fill="none" stroke="#000" stroke-width="1.8"/>
<polygon points="1122.8,1893 1100.9,1899.1 1106.1,1907" fill="#000" />
<line x1="1025.1" y1="2211.1" x2="1025.1" y2="2207.6" stroke="#000" stroke-width="1.8" />
<line x1="1025.1" y1="1807.6" x2="1025.1" y2="1811.1" stroke="#000" stroke-width="1.8" />
<line x1="1095" y1="2211.1" x2="1095" y2="2207.6" stroke="#000" stroke-width="1.8" />
<line x1="1095" y1="1807.6" x2="1095" y2="1811.1" stroke="#000" stroke-width="1.8" />
<line x1="1165" y1="2211.1" x2="1165" y2="2207.6" stroke="#000" stroke-width="1.8" />
<line x1="1165" y1="1807.6" x2="1165" y2="1811.1" stroke="#000" stroke-width="1.8" />
<line x1="1235" y1="2211.1" x2="1235" y2="2207.6" stroke="#000" stroke-width="1.8" />
<line x1="1235" y1="1807.6" x2="1235" y2="1811.1" stroke="#000" stroke-width="1.8" />
<line x1="1305" y1="2211.1" x2="1305" y2="2207.6" stroke="#000" stroke-width="1.8" />
<line x1="1305" y1="1807.6" x2="1305" y2="1811.1" stroke="#000" stroke-width="1.8" />
<line x1="1375" y1="2211.1" x2="1375" y2="2207.6" stroke="#000" stroke-width="1.8" />
<line x1="1375" y1="1807.6" x2="1375" y2="1811.1" stroke="#000" stroke-width="1.8" />
<line x1="955.1" y1="2144.4" x2="958.6" y2="2144.4" stroke="#000" stroke-width="1.8" />
<line x1="1414.7" y1="2144.4" x2="1411.2" y2="2144.4" stroke="#000" stroke-width="1.8" />
<line x1="955.1" y1="2077.7" x2="958.6" y2="2077.7" stroke="#000" stroke-width="1.8" />
<line x1="1414.7" y1="2077.7" x2="1411.2" y2="2077.7" stroke="#000" stroke-width="1.8" />
<line x1="955.1" y1="2011" x2="958.6" y2="2011" stroke="#000" stroke-width="1.8" />
<line x1="1414.7" y1="2011" x2="1411.2" y2="2011" stroke="#000" stroke-width="1.8" />
<line x1="955.1" y1="1944.3" x2="958.6" y2="1944.3" stroke="#000" stroke-width="1.8" />
<line x1="1414.7" y1="1944.3" x2="1411.2" y2="1944.3" stroke="#000" stroke-width="1.8" />
<line x1="955.1" y1="1877.6" x2="958.6" y2="1877.6" stroke="#000" stroke-width="1.8" />
<line x1="1414.7" y1="1877.6" x2="1411.2" y2="1877.6" stroke="#000" stroke-width="1.8" />
<rect x="955.1" y="1807.6" width="459.6" height="403.5" fill="none" stroke="#000" stroke-width="3.2" />
<text x="955.1" y="2242.9" font-size="36" text-anchor="middle">35</text>
<text x="1095" y="2242.9" font-size="36" text-anchor="middle">40</text>
<text x="1235" y="2242.9" font-size="36" text-anchor="middle">45</text>
<text x="1375" y="2242.9" font-size="36" text-anchor="middle">50</text>
<text x="153.5" y="20.6" font-size="26" textLength="288.5" lengthAdjust="spacingAndGlyphs">Glan-Thompson polarizer</text>
<text x="308.7" y="86.9" font-size="26" textLength="64.2" lengthAdjust="spacingAndGlyphs">prism</text>
<text x="485.3" y="86.8" font-size="26" textLength="119.3" lengthAdjust="spacingAndGlyphs">multilayer</text>
<text x="362.7" y="386" font-size="26" textLength="177.4" lengthAdjust="spacingAndGlyphs">linear polarizer</text>
<text x="612.9" y="271.6" font-size="26" textLength="57.1" lengthAdjust="spacingAndGlyphs">Si PD</text>
<text x="687.2" y="256.3" font-size="26" textLength="108.7" lengthAdjust="spacingAndGlyphs">capacitor</text>
<text x="945.7" y="166.9" font-size="26" textLength="138.1" lengthAdjust="spacingAndGlyphs">oscilloscope</text>
<text x="708.4" y="54.8" font-size="55" textLength="67.1" lengthAdjust="spacingAndGlyphs">(a)</text>
<text x="61.9" y="297.5" font-size="26" textLength="56.2" lengthAdjust="spacingAndGlyphs" transform="rotate(-90 61.9 297.5)">laser</text>
<text x="149.5" y="236.7" font-size="26" textLength="38.6" lengthAdjust="spacingAndGlyphs" transform="rotate(-90 149.5 236.7)">iris</text>
<text x="177" y="326.4" font-size="26" textLength="130.8" lengthAdjust="spacingAndGlyphs" transform="rotate(-90 177 326.4)">waveplates</text>
<text x="173.3" y="543" font-size="55" textLength="67.5" lengthAdjust="spacingAndGlyphs">(b)</text>
<text x="835.4" y="549.3" font-size="55" textLength="63.4" lengthAdjust="spacingAndGlyphs">(c)</text>
<text x="173" y="998.7" font-size="55" textLength="67.9" lengthAdjust="spacingAndGlyphs">(d)</text>
<text x="173.2" y="1454" font-size="55" textLength="66.9" lengthAdjust="spacingAndGlyphs">(e)</text>
<text x="862.1" y="1165.1" font-size="55" textLength="53.1" lengthAdjust="spacingAndGlyphs">(f)</text>
<text x="173.2" y="1975.1" font-size="55" textLength="66.9" lengthAdjust="spacingAndGlyphs">(g)</text>
<text x="873.8" y="1759.2" font-size="55" textLength="67.5" lengthAdjust="spacingAndGlyphs">(h)</text>
<text x="442" y="961" font-size="43" textLength="102" lengthAdjust="spacingAndGlyphs">Re(r)</text>
<text x="228.9" y="723.5" font-size="43.5" textLength="92.5" lengthAdjust="spacingAndGlyphs" transform="rotate(-90 228.9 723.5)">Im(r)</text>
<text x="432.2" y="1438.4" font-size="43" textLength="100.8" lengthAdjust="spacingAndGlyphs">Re(r)</text>
<text x="228.3" y="1195.4" font-size="43.5" textLength="89.8" lengthAdjust="spacingAndGlyphs" transform="rotate(-90 228.3 1195.4)">Im(r)</text>
<text x="457.4" y="1919.7" font-size="43" textLength="100.6" lengthAdjust="spacingAndGlyphs">Re(r)</text>
<text x="246.7" y="1682.7" font-size="43.5" textLength="92.4" lengthAdjust="spacingAndGlyphs" transform="rotate(-90 246.7 1682.7)">Im(r)</text>
<text x="443.5" y="2377" font-size="43" textLength="96.2" lengthAdjust="spacingAndGlyphs">Re(r)</text>
<text x="249.1" y="2145.9" font-size="43.5" textLength="89.6" lengthAdjust="spacingAndGlyphs" transform="rotate(-90 249.1 2145.9)">Im(r)</text>
<text x="1167.4" y="585.6" font-size="34" textLength="112.8" lengthAdjust="spacingAndGlyphs">time (s)</text>
<text x="1023.4" y="466" font-size="34" textLength="167.1" lengthAdjust="spacingAndGlyphs" transform="rotate(-90 1023.4 466)">Voltage (V)</text>
<text x="1197.4" y="270.3" font-size="26" font-family='"Liberation Serif", serif' textLength="58.2" lengthAdjust="spacingAndGlyphs">2π / ω</text>
<text x="1243.8" y="452" font-size="25" textLength="10.5" lengthAdjust="spacingAndGlyphs">r</text>
<text x="970.6" y="1084.7" font-size="43.5" textLength="397.2" lengthAdjust="spacingAndGlyphs">Incident angle (deg)</text>
<text x="892.9" y="846.5" font-size="44" textLength="119.8" lengthAdjust="spacingAndGlyphs" transform="rotate(-90 892.9 846.5)">tan(φ)</text>
<text x="980.9" y="1697.7" font-size="43.5" textLength="399.1" lengthAdjust="spacingAndGlyphs">Incident angle (deg)</text>
<text x="903.9" y="1470.6" font-size="44" textLength="121.1" lengthAdjust="spacingAndGlyphs" transform="rotate(-90 903.9 1470.6)">tan(φ)</text>
<text x="986.8" y="2279" font-size="43.5" textLength="398.9" lengthAdjust="spacingAndGlyphs">Incident angle (deg)</text>
<text x="897.1" y="2146.2" font-size="44" textLength="332.4" lengthAdjust="spacingAndGlyphs" transform="rotate(-90 897.1 2146.2)">phase shift (rad)</text>
<text x="973" y="644.2" font-size="32" font-family='"Liberation Serif", serif' font-style="italic" textLength="33.2" lengthAdjust="spacingAndGlyphs">(v)</text>
<text x="1249.2" y="709.9" font-size="32" font-family='"Liberation Serif", serif' font-style="italic" textLength="37.4" lengthAdjust="spacingAndGlyphs">(ii)</text>
<text x="1076.9" y="1275.4" font-size="32" font-family='"Liberation Serif", serif' font-style="italic" textLength="41.9" lengthAdjust="spacingAndGlyphs">(iv)</text>
<text x="1318.1" y="1371.8" font-size="32" font-family='"Liberation Serif", serif' font-style="italic" textLength="45.9" lengthAdjust="spacingAndGlyphs">(iii)</text>
<text x="1243.8" y="1950" font-size="32" font-family='"Liberation Serif", serif' font-style="italic" textLength="34.2" lengthAdjust="spacingAndGlyphs">(v)</text>
<text x="1241.3" y="2024.5" font-size="32" font-family='"Liberation Serif", serif' font-style="italic" textLength="46.7" lengthAdjust="spacingAndGlyphs">(iii)</text>
<text x="1288.1" y="2109" font-size="32" font-family='"Liberation Serif", serif' font-style="italic" textLength="37.2" lengthAdjust="spacingAndGlyphs">(ii)</text>
<text x="1196.6" y="2156.2" font-size="32" font-family='"Liberation Serif", serif' font-style="italic" textLength="42.1" lengthAdjust="spacingAndGlyphs">(iv)</text>
<text x="925.8" y="1829.3" font-size="45" font-family='"Liberation Serif", serif' textLength="23.7" lengthAdjust="spacingAndGlyphs">π</text>
<text x="927.9" y="1963" font-size="45" font-family='"Liberation Serif", serif' textLength="22.9" lengthAdjust="spacingAndGlyphs">0</text>
<text x="900.1" y="2091.7" font-size="45" font-family='"Liberation Serif", serif' textLength="48.9" lengthAdjust="spacingAndGlyphs">−π</text>
<text x="880" y="2211.6" font-size="45" font-family='"Liberation Serif", serif' textLength="71.9" lengthAdjust="spacingAndGlyphs">−2π</text>
</svg></body></html>
